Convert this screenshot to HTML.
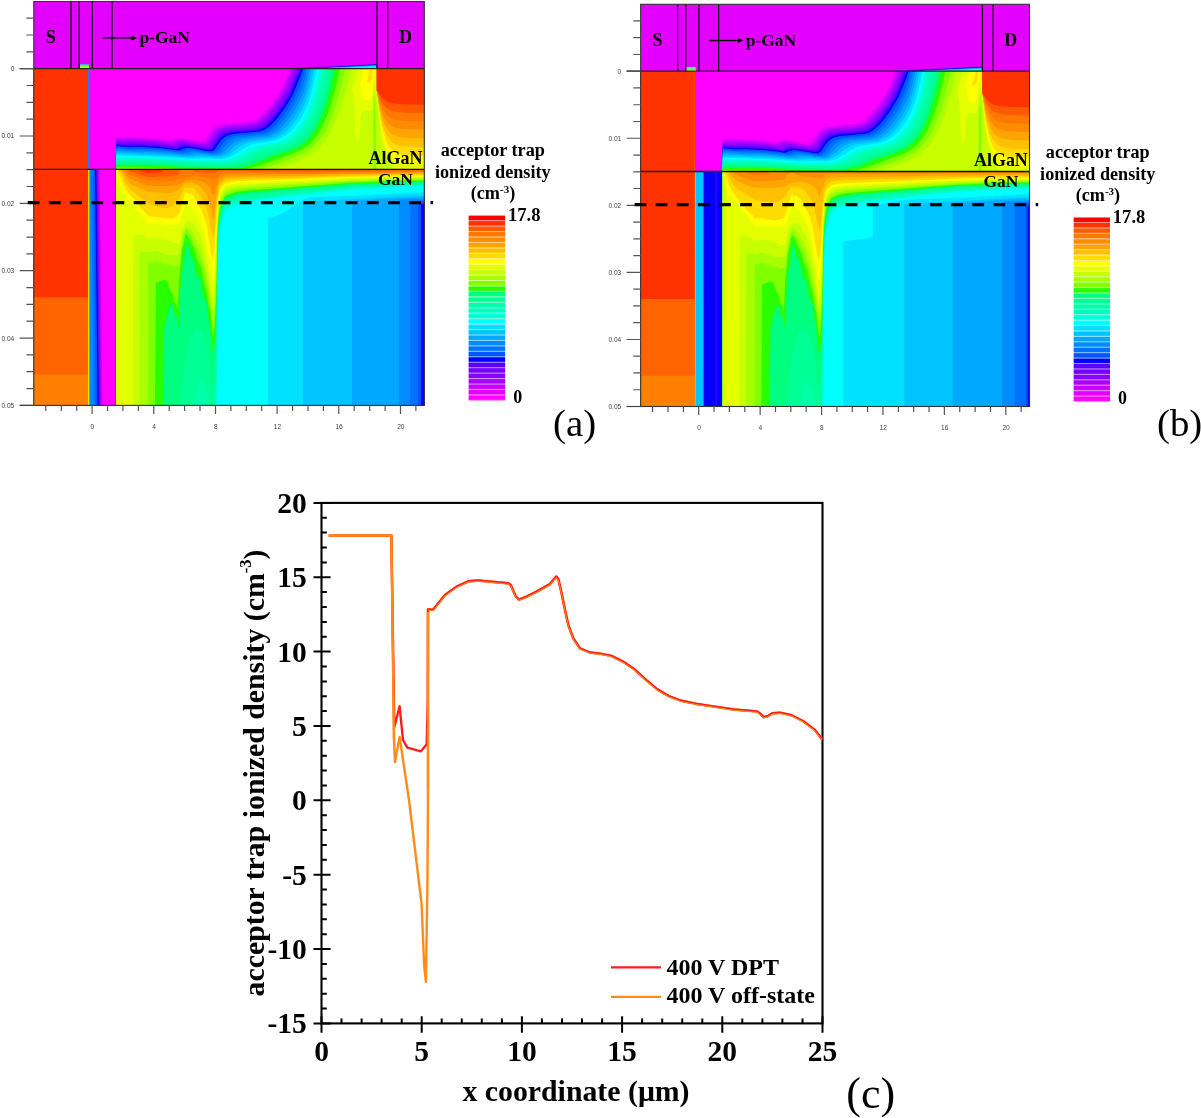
<!DOCTYPE html><html><head><meta charset="utf-8"><title>acceptor trap ionized density</title>
<style>html,body{margin:0;padding:0;background:#fff;overflow:hidden;}svg{display:block;}</style></head><body>
<svg width="1201" height="1118" viewBox="0 0 1201 1118">
<rect width="1201" height="1118" fill="#fff"/>
<g><rect x="33.8" y="1.5" width="390.5" height="67.2" fill="#E400FF"/>
<path fill="#9000FF" d="M284 68.7 L300 67.6 L376.3 64.0 L376.3 68.7Z"/>
<path fill="#0000FF" d="M296 68.7 L376.3 64.3 L376.3 68.7Z"/>
<path fill="#008CFF" d="M303 68.7 L376.3 65.0 L376.3 68.7Z"/>
<path fill="#00E0FF" d="M311 68.7 L376.3 65.7 L376.3 68.7Z"/>
<path fill="#00FFD8" d="M322 68.7 L376.3 66.6 L376.3 68.7Z"/>
<rect x="79.6" y="64.4" width="9.4" height="4.3" fill="#00FFFF"/>
<rect x="79.6" y="66.0" width="9.4" height="2.7" fill="#80FF00"/>
<rect x="79.6" y="67.3" width="9.4" height="1.4" fill="#E4FF00"/>
<rect x="33.8" y="68.7" width="390.5" height="336.7" fill="#FF00FF"/>
<path fill="#E400FF" fill-rule="evenodd" d="M33.8 68.7L88.3 68.7 88.3 169.2 97.8 169.3 99.8 169.7 102.4 405.4 33.8 405.4 33.8 68.7ZM289.7 68.7L424.3 68.7 424.3 405.4 115.8 405.4 115.8 152.2 115.9 140.2 116.3 136.9 131.8 136.8 151.3 137.9 161.8 139.2 169.8 140.5 173.8 138.3 177.8 137.4 196.8 140.6 201.8 141.2 204.8 139.9 211.6 129.7 216.8 125.5 222.8 123.7 249.8 121.3 254.8 119.8 258.8 117.1 263.8 112.5 268.4 107.2 275.8 97.0 282.7 85.7 289.7 68.7Z"/>
<path fill="#C800FF" fill-rule="evenodd" d="M33.8 68.7L88.3 68.7 88.3 169.2 96.8 169.4 99.2 169.7 101.8 405.4 33.8 405.4 33.8 68.7ZM291.6 68.7L424.3 68.7 424.3 405.4 115.8 405.4 115.8 169.7 115.9 144.7 116.3 138.2 118.3 138.4 133.3 138.2 152.8 139.4 162.8 140.6 170.8 141.9 175.3 139.7 179.3 138.9 198.3 142.0 203.3 142.6 205.8 141.6 206.2 141.2 212.9 131.2 218.3 126.9 224.3 125.2 250.8 122.8 255.8 121.4 260.3 118.3 264.8 114.2 269.8 108.5 277.2 98.2 284.0 87.2 291.6 68.7Z"/>
<path fill="#AA00FF" fill-rule="evenodd" d="M33.8 68.7L88.3 68.7 88.3 169.2 96.3 169.4 98.5 169.7 101.1 405.4 33.8 405.4 33.8 68.7ZM293.3 69.2L293.5 68.7 424.3 68.7 424.3 405.4 115.9 405.4 115.9 169.7 116.0 145.7 116.3 139.5 119.8 139.8 134.3 139.7 153.8 140.8 164.3 142.1 172.3 143.4 176.3 141.3 180.3 140.3 199.3 143.5 204.3 144.1 204.8 143.9 207.3 142.9 214.3 132.5 219.3 128.5 225.3 126.7 252.3 124.2 257.3 122.7 261.3 120.0 266.3 115.4 271.3 109.7 278.3 100.0 285.2 88.7 293.3 69.2Z"/>
<path fill="#9000FF" fill-rule="evenodd" d="M33.8 68.7L88.2 68.7 88.2 169.2 97.9 169.7 100.5 405.4 33.8 405.4 33.8 68.7ZM295.1 69.2L295.4 68.7 424.3 68.7 424.3 405.4 115.9 405.4 115.9 169.7 116.0 147.7 116.3 140.7 120.8 141.3 135.8 141.1 155.3 142.3 165.3 143.5 173.3 144.9 177.6 142.7 181.8 141.8 205.3 145.6 208.3 144.5 215.4 134.2 220.8 129.8 226.8 128.1 253.8 125.6 258.5 124.2 262.8 121.3 267.7 116.7 272.3 111.5 279.7 101.2 286.5 90.2 295.1 69.2Z"/>
<path fill="#7400FF" fill-rule="evenodd" d="M33.8 68.7L88.2 68.7 88.2 169.2 97.3 169.7 99.9 405.4 33.8 405.4 33.8 68.7ZM297.1 69.2L297.3 68.7 424.3 68.7 424.3 405.4 115.9 405.4 115.9 169.7 116.3 142.0 121.8 142.8 136.8 142.6 156.8 143.8 166.8 145.0 174.8 146.3 178.8 144.2 182.8 143.2 206.3 147.0 207.3 146.9 209.3 146.1 209.9 145.7 216.8 135.4 221.8 131.4 228.3 129.5 254.8 127.2 259.8 125.7 264.1 122.7 268.8 118.4 273.8 112.7 281.0 102.7 287.8 91.6 297.1 69.2Z"/>
<path fill="#5A00FF" fill-rule="evenodd" d="M33.8 68.7L88.2 68.7 88.2 169.2 89.8 169.5 96.7 169.7 99.3 405.4 33.8 405.4 33.8 68.7ZM299.2 68.7L424.3 68.7 424.3 405.4 115.9 405.4 115.9 169.7 116.3 143.3 123.3 144.2 138.3 144.0 157.8 145.2 167.8 146.4 175.8 147.8 176.3 147.7 180.3 145.6 184.3 144.7 203.3 147.8 208.3 148.4 211.1 147.2 218.2 136.7 223.3 132.8 229.3 131.0 255.8 128.6 260.8 127.2 265.3 124.2 270.2 119.7 275.0 114.2 282.2 104.2 289.2 92.7 299.2 68.7Z"/>
<path fill="#0000FF" fill-rule="evenodd" d="M33.8 68.7L88.2 68.7 88.2 169.2 89.8 169.5 96.1 169.7 98.7 405.4 33.8 405.4 33.8 68.7ZM301.2 68.7L424.3 68.7 424.3 405.4 115.9 405.4 115.9 169.7 116.3 144.6 124.3 145.7 139.3 145.5 159.3 146.7 169.3 147.9 177.3 149.3 181.3 147.1 185.3 146.1 209.3 149.9 212.4 148.7 219.3 138.4 224.6 134.2 230.8 132.4 257.3 130.1 262.3 128.6 266.3 125.9 271.4 121.2 276.3 115.6 283.5 105.7 290.5 94.2 298.8 73.9 301.2 68.7Z"/>
<path fill="#0055FF" fill-rule="evenodd" d="M33.8 68.7L88.2 68.7 88.2 169.2 89.8 169.6 95.0 169.7 97.6 405.4 33.8 405.4 33.8 68.7ZM302.7 69.2L302.8 68.7 424.3 68.7 424.3 203.7 421.8 203.8 421.0 204.2 421.0 405.4 116.0 405.4 116.0 169.7 116.3 146.0 126.3 147.1 141.3 147.0 160.8 148.2 170.8 149.4 178.3 150.5 179.8 150.3 183.3 148.7 187.3 147.8 195.3 148.8 207.3 150.9 211.3 151.3 212.9 150.7 214.5 149.7 221.3 140.1 224.6 137.2 227.0 135.7 232.8 134.0 258.8 131.6 263.8 130.2 268.3 127.3 273.3 122.7 278.3 117.0 285.4 107.2 292.3 95.7 300.3 76.5 302.7 69.2Z"/>
<path fill="#0070FF" fill-rule="evenodd" d="M33.8 68.7L88.2 68.7 88.2 169.2 89.8 169.6 93.3 169.7 95.8 405.4 33.8 405.4 33.8 68.7ZM304.8 69.2L304.9 68.7 424.3 68.7 424.3 202.1 418.8 202.3 417.9 202.7 417.9 405.4 116.0 405.4 116.0 169.7 116.3 147.6 120.8 147.8 129.8 148.7 144.8 148.7 160.8 149.6 167.3 150.2 180.3 151.8 182.8 151.5 188.3 149.9 191.8 149.6 209.3 152.4 212.8 152.6 214.8 152.1 217.1 150.7 218.9 148.7 223.1 143.2 225.3 140.8 228.3 138.4 231.3 136.9 234.3 136.0 237.8 135.4 260.7 133.2 263.3 132.7 265.8 131.9 268.3 130.6 271.1 128.7 273.9 126.2 276.9 123.2 283.1 115.7 290.0 105.7 294.8 97.2 299.5 86.7 302.9 77.2 304.8 69.2Z"/>
<path fill="#008CFF" fill-rule="evenodd" d="M33.8 68.7L88.1 68.7 88.1 169.2 89.3 169.6 91.0 169.7 93.6 405.4 33.8 405.4 33.8 68.7ZM307.0 68.7L424.3 68.7 424.3 200.4 411.3 200.9 410.0 201.2 410.0 405.4 116.0 405.4 116.0 169.7 116.3 149.2 122.8 149.4 132.8 150.2 146.8 150.3 157.8 150.9 167.8 151.6 181.8 153.2 185.3 152.9 191.8 151.6 195.3 151.4 199.8 151.9 210.8 153.7 214.8 153.8 217.4 153.2 219.8 151.7 221.9 149.7 226.3 144.7 228.8 142.1 231.8 139.9 234.8 138.5 237.8 137.6 241.8 136.9 262.8 134.8 265.8 134.2 268.6 133.2 271.5 131.7 274.3 129.7 277.3 127.1 280.6 123.7 287.4 115.2 293.8 105.4 298.4 96.7 302.4 87.2 304.8 79.2 307.0 68.7Z"/>
<path fill="#00A8FF" fill-rule="evenodd" d="M33.8 68.7L88.1 68.7 88.1 169.2 89.6 169.7 89.7 405.4 33.8 405.4 33.8 68.7ZM309.2 68.7L424.3 68.7 424.3 198.7 400.8 199.7 398.9 200.2 398.9 405.4 116.0 405.4 116.0 169.7 116.3 150.8 124.3 151.0 136.8 151.8 156.8 152.2 168.8 153.0 183.8 154.5 187.8 154.4 195.3 153.3 198.8 153.3 203.3 153.7 212.8 155.0 216.8 155.1 219.8 154.3 222.6 152.7 225.0 150.7 232.3 143.7 235.1 141.7 238.3 140.2 241.4 139.2 245.3 138.5 264.8 136.4 268.3 135.6 271.3 134.6 274.0 133.2 277.0 131.2 279.9 128.7 283.4 125.2 286.8 121.2 290.2 116.7 293.7 111.7 296.7 106.7 301.1 98.2 304.4 89.7 307.0 80.2 309.2 68.7Z"/>
<path fill="#00C4FF" fill-rule="evenodd" d="M33.8 68.7L88.1 68.7 88.1 169.2 89.3 169.7 89.3 405.4 33.8 405.4 33.8 68.7ZM311.5 68.7L424.3 68.7 424.3 197.1 399.8 198.1 356.1 200.7 352.0 201.2 352.0 405.4 116.0 405.4 116.0 169.7 116.3 152.4 125.3 152.5 139.8 153.4 159.3 153.8 169.8 154.5 185.8 155.9 189.8 155.9 201.3 155.0 205.3 155.3 214.8 156.4 218.8 156.3 221.8 155.6 224.9 154.2 227.7 152.2 236.3 145.0 239.3 143.1 242.5 141.7 245.8 140.7 249.3 140.0 267.3 137.9 270.8 137.1 273.8 136.1 276.8 134.6 279.8 132.6 282.8 130.1 286.2 126.7 289.7 122.7 293.1 118.2 296.3 113.5 299.2 108.7 303.4 100.2 306.4 91.7 309.2 81.2 311.5 68.7Z"/>
<path fill="#00E0FF" fill-rule="evenodd" d="M33.8 68.7L88.1 68.7 88.1 169.2 89.2 169.7 89.2 405.4 33.8 405.4 33.8 68.7ZM314.0 68.7L424.3 68.7 424.3 195.3 399.8 196.3 353.3 199.2 308.3 201.3 305.9 201.7 304.3 202.7 303.5 203.7 303.1 204.7 303.0 207.2 303.0 405.4 116.1 405.4 116.1 169.7 116.3 154.0 127.8 154.2 143.3 154.9 161.8 155.4 188.3 157.4 204.3 156.8 216.3 157.6 220.8 157.6 224.7 156.7 228.0 155.2 231.2 153.2 240.3 146.4 243.3 144.7 246.3 143.4 249.3 142.5 253.0 141.7 269.8 139.5 273.3 138.6 276.8 137.3 280.0 135.7 283.0 133.7 286.3 130.9 289.6 127.7 293.0 123.7 296.0 119.7 299.0 115.2 301.6 110.7 305.4 102.7 308.5 93.7 311.4 82.2 314.0 68.7Z"/>
<path fill="#00FFFF" fill-rule="evenodd" d="M33.8 68.7L88.1 68.7 88.1 169.2 89.2 169.7 89.2 405.4 33.8 405.4 33.8 68.7ZM316.6 68.7L424.3 68.7 424.3 192.3 398.3 193.4 353.9 195.7 309.3 197.4 303.3 199.8 297.8 203.1 292.2 207.2 286.3 211.0 280.3 214.4 269.6 217.7 268.4 218.7 268.1 219.2 268.0 221.7 268.0 405.4 116.1 405.4 116.1 169.7 116.3 155.6 130.3 155.8 163.8 157.0 191.3 158.8 206.8 158.5 218.3 159.0 222.8 158.8 226.8 158.1 230.8 156.5 234.8 154.2 244.3 148.0 250.3 145.1 253.3 144.2 257.3 143.3 272.8 140.9 276.3 139.9 279.6 138.7 282.8 137.1 286.3 134.7 289.4 132.2 292.4 129.2 295.5 125.7 298.5 121.7 301.2 117.7 303.7 113.2 307.6 104.7 310.8 95.2 313.7 83.7 316.6 68.7Z"/>
<path fill="#00FFD8" fill-rule="evenodd" d="M33.8 68.7L88.1 68.7 88.1 169.2 88.3 169.5 89.1 169.7 89.1 405.4 33.8 405.4 33.8 68.7ZM319.2 68.7L424.3 68.7 424.3 186.6 409.8 186.7 395.2 187.2 392.8 187.5 386.8 187.7 384.3 188.1 378.4 188.2 375.8 188.6 353.4 189.7 347.3 190.2 345.8 190.5 342.8 190.7 341.3 191.0 338.3 191.2 336.8 191.5 301.8 195.2 261.7 200.2 241.3 203.2 239.3 203.7 232.6 206.2 228.8 208.7 225.3 211.2 224.8 212.2 220.3 228.4 220.2 231.2 219.8 232.2 219.7 237.2 219.3 238.2 219.2 243.2 218.8 244.4 218.7 249.7 218.3 250.7 218.2 260.7 217.8 262.2 217.7 279.2 217.6 280.2 217.3 280.7 217.3 297.7 217.2 298.7 216.8 299.6 216.8 405.4 116.1 405.4 116.1 169.7 116.3 157.2 132.8 157.4 165.8 158.6 194.3 160.3 220.3 160.4 224.8 160.2 229.8 159.3 234.0 157.7 237.9 155.7 248.3 149.5 254.8 146.7 260.8 145.1 275.3 142.4 278.8 141.5 282.2 140.2 285.3 138.6 288.8 136.4 291.8 134.0 294.8 131.2 297.8 127.9 300.6 124.2 303.3 120.2 305.6 116.2 309.6 107.2 313.1 96.7 316.1 84.7 319.2 68.7Z"/>
<path fill="#00FFBC" fill-rule="evenodd" d="M33.8 68.7L88.1 68.7 88.1 169.2 88.3 169.5 89.0 169.7 89.0 405.4 33.8 405.4 33.8 68.7ZM322.1 68.7L424.3 68.7 424.3 185.4 399.8 185.9 349.8 188.7 299.8 193.9 260.3 198.5 239.8 201.4 231.8 204.3 225.3 208.6 224.8 209.5 220.3 224.7 219.6 230.2 218.0 250.7 216.8 294.7 216.3 405.4 116.1 405.4 116.1 169.7 116.3 158.8 135.8 159.0 166.3 160.1 198.3 161.9 220.3 161.9 226.8 161.6 232.1 160.7 237.3 159.0 242.0 156.7 252.3 151.2 258.8 148.4 265.0 146.7 278.3 143.9 284.8 141.7 288.3 140.0 291.3 138.1 294.4 135.7 297.6 132.7 300.8 129.2 303.3 125.8 305.8 122.0 308.1 117.7 312.1 108.7 315.7 97.7 319.0 84.2 322.1 68.7Z"/>
<path fill="#00FFA8" fill-rule="evenodd" d="M33.8 68.7L88.0 68.7 88.0 169.2 88.3 169.5 89.0 169.7 89.0 405.4 33.8 405.4 33.8 68.7ZM325.0 68.7L424.3 68.7 424.3 184.4 399.8 184.9 349.8 187.5 299.8 192.4 260.3 196.7 239.8 199.4 231.8 202.0 225.3 206.1 224.8 206.9 220.3 221.1 219.8 224.3 218.5 238.2 218.0 246.7 216.8 283.4 216.3 380.9 215.5 405.4 116.1 405.4 116.1 169.7 116.3 160.4 146.3 160.8 173.8 161.9 202.8 163.4 220.3 163.5 228.8 163.1 234.8 162.1 240.3 160.4 245.4 158.2 256.8 152.6 263.3 150.0 268.8 148.4 281.3 145.4 287.5 143.2 290.8 141.6 294.3 139.4 297.3 137.1 300.4 134.2 303.1 131.2 305.8 127.7 308.3 123.7 310.5 119.7 314.6 110.2 318.2 99.2 321.7 85.2 325.0 68.7Z"/>
<path fill="#00FF94" fill-rule="evenodd" d="M33.8 68.7L88.0 68.7 88.0 169.2 88.3 169.5 88.9 169.7 88.9 405.4 33.8 405.4 33.8 68.7ZM328.1 68.7L424.3 68.7 424.3 183.4 399.8 183.9 349.8 186.3 299.8 190.9 260.3 194.9 239.8 197.3 231.8 199.8 225.3 203.6 224.8 204.3 220.3 217.5 219.6 222.2 218.1 239.7 216.8 275.5 216.3 355.5 214.8 394.2 214.2 405.4 209.3 405.4 206.8 389.7 200.8 377.4 198.3 383.7 196.0 390.7 194.2 398.2 192.9 405.4 116.2 405.4 116.3 162.0 134.8 162.1 149.8 162.5 175.3 163.4 207.3 165.0 221.8 165.0 230.8 164.6 236.8 163.7 242.8 162.1 247.7 160.2 259.8 154.7 265.8 152.3 271.8 150.4 284.3 147.0 290.3 144.7 293.8 143.0 297.3 140.8 300.3 138.4 303.2 135.7 305.8 132.7 308.4 129.2 310.9 125.2 313.1 121.2 317.3 111.2 320.9 100.2 324.5 86.2 328.1 68.7Z"/>
<path fill="#00FF80" fill-rule="evenodd" d="M33.8 68.7L88.0 68.7 88.0 169.2 88.3 169.6 88.8 169.7 88.8 405.4 33.8 405.4 33.8 68.7ZM331.3 69.2L331.4 68.7 424.3 68.7 424.3 182.4 399.8 182.8 349.8 185.2 299.8 189.4 260.3 193.0 239.8 195.3 231.8 197.6 225.3 201.0 224.8 201.7 220.3 213.9 219.8 216.7 218.2 231.7 216.8 267.5 216.3 330.0 215.3 354.3 213.3 386.4 212.8 387.3 211.8 384.9 209.8 364.6 206.8 346.2 206.3 344.6 200.8 328.6 194.3 328.9 193.8 329.1 193.3 330.2 190.7 336.7 188.7 343.2 186.3 352.2 184.3 364.7 180.1 405.4 116.2 405.4 116.3 163.6 137.3 163.7 153.3 164.1 211.8 166.5 223.8 166.6 232.8 166.1 239.8 165.1 247.0 163.2 252.5 161.2 269.3 154.2 286.3 148.9 292.3 146.6 296.2 144.7 299.5 142.7 302.7 140.2 305.4 137.7 308.1 134.7 310.8 131.2 313.3 127.2 315.5 123.2 319.6 113.7 323.8 101.2 327.7 86.2 331.3 69.2Z"/>
<path fill="#28FF00" fill-rule="evenodd" d="M33.8 68.7L88.0 68.7 88.0 169.2 88.8 169.7 88.8 405.4 33.8 405.4 33.8 68.7ZM334.8 68.7L424.3 68.7 424.3 181.5 399.8 181.8 349.8 184.0 260.3 191.2 239.8 193.2 231.8 195.3 225.3 198.5 224.8 199.1 220.3 210.3 219.8 212.8 218.3 225.8 217.7 234.7 216.8 259.5 216.3 310.0 216.0 319.2 214.8 341.7 213.3 351.5 212.8 351.6 212.5 351.2 211.8 349.0 211.0 340.2 210.1 323.7 208.7 319.2 207.9 315.7 206.5 302.2 204.1 298.7 202.7 294.7 201.6 288.7 200.8 280.0 199.1 278.7 197.8 277.1 196.7 275.2 195.8 272.7 194.5 265.7 193.8 258.5 191.8 257.4 190.7 256.2 189.8 253.2 189.3 247.7 188.8 247.5 188.2 246.7 187.8 244.7 186.8 244.5 186.3 244.1 185.9 248.7 185.6 249.7 184.8 250.7 184.0 262.7 183.3 266.2 182.3 268.5 181.9 276.2 181.3 279.7 180.9 286.7 180.2 291.7 179.4 315.7 178.8 326.6 178.2 323.2 177.4 316.2 175.8 315.9 174.8 315.4 174.2 314.2 173.8 306.2 171.3 305.3 170.3 303.1 169.9 306.7 169.3 309.2 168.4 311.2 167.2 312.7 165.9 322.2 165.2 324.7 164.3 326.6 162.9 405.4 116.2 405.4 116.3 165.3 157.9 165.7 214.8 168.1 227.8 168.1 236.3 167.6 243.8 166.4 251.3 164.4 258.3 161.9 271.3 156.7 288.3 151.0 294.8 148.4 298.8 146.4 301.8 144.6 305.3 141.9 308.2 139.2 313.1 133.2 316.0 128.7 318.2 124.7 322.6 114.7 327.1 101.2 331.1 85.7 334.8 68.7Z"/>
<path fill="#80FF00" fill-rule="evenodd" d="M33.8 68.7L88.0 68.7 88.0 169.2 88.7 169.7 88.7 405.4 33.8 405.4 33.8 68.7ZM339.9 68.7L424.3 68.7 424.3 180.5 399.8 180.8 349.8 182.8 260.3 189.4 239.8 191.2 231.8 193.1 225.3 195.9 224.8 196.5 220.3 206.7 219.8 209.0 218.3 220.8 217.7 229.2 216.8 251.5 216.3 295.0 214.8 325.6 213.3 336.4 212.5 332.7 211.8 324.2 210.2 310.2 208.6 306.2 206.8 291.7 204.3 284.2 200.9 266.7 199.3 264.1 198.2 261.7 193.9 247.7 191.5 244.2 189.4 238.2 186.9 234.7 186.3 233.4 185.7 235.2 184.8 236.7 183.6 244.2 182.3 249.1 181.9 253.2 181.2 256.7 180.6 264.2 178.8 280.2 177.8 308.0 177.3 309.3 176.8 304.7 175.9 303.2 174.2 302.2 173.4 296.7 172.8 294.1 171.8 292.2 170.5 290.7 166.8 280.6 163.3 280.0 162.8 279.7 162.3 280.4 160.0 281.2 158.8 282.2 155.8 282.7 155.4 354.7 154.9 405.4 116.2 405.4 116.3 167.6 155.3 167.9 193.1 169.2 244.7 169.2 252.4 167.7 260.8 165.2 289.8 154.7 296.3 152.1 300.8 150.0 304.6 147.7 308.1 145.2 310.9 142.7 313.8 139.7 316.6 136.2 319.2 132.2 321.8 127.7 324.2 122.7 326.6 117.2 331.1 104.2 335.5 88.2 339.9 68.7Z"/>
<path fill="#A8FF00" fill-rule="evenodd" d="M33.8 68.7L88.0 68.7 88.0 169.2 88.6 169.7 88.6 405.4 33.8 405.4 33.8 68.7ZM345.5 68.7L424.3 68.7 424.3 179.5 399.8 179.8 349.8 181.6 260.3 187.5 239.8 189.1 231.8 190.8 225.3 193.4 224.8 193.9 220.3 203.1 219.8 205.1 218.3 215.8 217.7 223.2 216.8 243.6 216.3 280.0 215.3 302.3 214.8 310.9 213.3 322.4 211.3 309.2 210.2 305.7 209.8 303.6 206.8 282.6 202.7 264.7 197.4 247.7 196.2 245.7 193.8 242.7 192.3 238.2 191.4 236.2 187.4 230.2 186.3 228.1 185.7 230.2 184.0 234.2 182.3 242.0 178.8 267.0 177.3 266.2 173.8 266.6 170.3 265.1 163.8 264.0 157.3 261.8 155.8 261.1 153.8 262.3 148.5 262.7 148.3 263.2 148.2 405.4 116.2 405.4 116.3 169.2 260.4 169.2 267.3 167.2 274.8 164.7 290.3 159.0 298.3 155.8 303.3 153.4 307.3 151.1 310.8 148.7 314.3 145.7 317.3 142.6 320.5 138.7 323.2 134.7 325.8 130.2 328.4 125.2 330.8 119.7 333.3 113.2 335.8 105.7 340.7 88.7 345.5 68.7ZM374.8 100.4L374.3 102.7 373.7 115.7 373.5 169.2 374.8 169.2 375.7 169.2 375.6 114.2 375.3 104.4 374.8 100.4Z"/>
<path fill="#C8FF00" fill-rule="evenodd" d="M33.8 68.7L87.9 68.7 87.9 169.2 88.5 169.7 88.5 405.4 33.8 405.4 33.8 68.7ZM351.3 68.7L424.3 68.7 424.3 178.5 399.8 178.8 350.3 180.4 260.3 185.7 239.8 187.1 231.8 188.6 225.3 190.8 224.8 191.3 220.3 199.5 219.8 201.3 218.3 210.8 217.7 217.7 216.8 235.6 216.3 265.0 215.3 287.3 214.5 300.2 213.3 310.3 211.8 303.0 210.3 297.3 208.1 280.2 206.8 272.5 200.8 247.7 199.4 244.2 192.6 231.2 191.3 229.6 188.3 227.1 186.3 225.0 182.9 233.2 181.8 238.7 179.8 250.7 178.8 255.0 170.3 255.8 164.3 254.0 162.8 253.0 161.3 252.4 155.8 251.0 154.8 251.0 149.3 252.4 147.8 252.0 145.3 251.9 143.8 251.5 142.8 252.0 139.8 252.2 139.6 405.4 116.3 405.4 116.3 169.4 274.2 169.2 286.8 165.0 299.3 160.1 304.8 157.6 309.3 155.1 313.6 152.2 317.3 149.2 320.8 145.8 323.9 142.2 326.8 138.1 329.8 133.2 332.7 127.7 335.2 122.2 338.0 115.2 340.7 107.7 346.1 89.7 351.3 68.7ZM374.8 92.4L374.3 93.6 373.8 97.6 372.9 115.2 372.7 129.7 372.6 169.2 374.8 169.3 376.4 169.2 376.3 106.9 375.7 96.2 375.3 93.3 374.8 92.4Z"/>
<path fill="#E4FF00" fill-rule="evenodd" d="M33.8 68.7L87.9 68.7 87.9 169.2 88.5 169.7 88.5 405.4 33.8 405.4 33.8 68.7ZM357.2 69.2L357.4 68.7 424.3 68.7 424.3 177.5 399.8 177.7 350.3 179.2 259.8 183.9 239.8 185.1 231.8 186.3 225.3 188.3 224.8 188.7 220.3 195.9 219.8 197.7 218.2 206.7 216.8 227.6 216.3 250.0 214.9 279.2 213.3 298.5 211.8 292.9 210.3 285.4 208.2 269.2 205.0 252.2 203.1 244.2 201.5 238.7 199.8 234.3 196.9 228.2 193.8 222.9 191.8 221.8 189.3 220.9 188.3 221.9 187.8 222.0 187.3 221.4 186.3 220.8 185.5 221.7 184.3 225.6 183.3 226.4 182.6 227.7 181.6 231.2 179.8 240.3 178.8 242.9 177.8 243.3 173.8 242.9 168.3 240.5 162.8 238.5 160.3 238.0 154.8 238.0 148.8 238.9 143.8 235.4 140.3 234.0 136.3 234.7 133.9 235.7 133.3 236.2 132.9 405.4 116.3 405.4 116.3 169.5 130.3 169.3 395.4 169.2 393.3 167.5 391.8 166.0 390.3 164.0 388.8 161.4 386.3 155.5 383.8 146.6 381.7 135.7 379.6 121.2 378.5 111.7 378.4 108.7 378.0 106.7 377.8 102.7 377.5 101.2 377.3 96.7 377.0 95.7 376.8 93.2 376.4 92.2 376.3 85.5 375.8 84.7 375.3 84.4 374.8 84.9 374.3 86.4 373.8 89.2 372.3 106.2 371.8 108.8 371.3 110.0 370.3 110.7 368.3 111.1 363.3 111.4 362.3 111.9 361.7 112.7 361.1 114.7 360.6 117.7 359.8 132.3 359.2 137.2 358.7 139.2 357.8 141.0 357.3 141.2 356.3 139.3 355.7 136.7 355.2 132.2 354.5 111.7 353.9 102.2 353.1 95.2 352.0 89.7 357.2 69.2Z"/>
<path fill="#FFFF00" fill-rule="evenodd" d="M33.8 68.7L87.9 68.7 87.9 169.2 88.4 169.7 88.4 405.4 33.8 405.4 33.8 68.7ZM363.7 68.7L374.6 68.7 374.0 75.7 371.6 96.2 371.2 97.7 370.3 99.3 369.3 99.9 367.8 100.3 366.3 100.2 364.8 99.8 363.8 99.0 363.1 97.7 362.0 94.2 360.0 83.2 363.7 68.7ZM376.3 68.7L424.3 68.7 424.3 164.4 407.8 164.0 402.8 163.4 398.8 162.4 395.3 160.8 392.3 158.5 389.8 155.5 387.8 152.0 385.3 145.8 383.3 138.6 381.3 128.6 379.8 118.7 377.6 99.7 377.4 96.2 376.4 91.2 376.3 68.7ZM116.3 169.7L130.3 169.4 424.3 169.2 424.3 176.5 399.8 176.7 350.3 178.0 240.3 183.0 231.8 184.1 225.3 185.8 224.8 186.1 220.3 192.3 219.8 193.7 218.3 201.2 216.8 220.2 216.3 235.0 214.8 262.9 213.3 279.7 212.8 279.3 211.8 276.0 210.3 268.4 208.3 254.6 206.3 242.7 203.6 231.2 200.8 222.8 193.8 209.9 189.3 205.0 188.3 205.8 187.8 205.8 186.3 204.0 184.8 206.7 183.5 210.7 182.3 213.1 180.8 219.6 179.8 221.9 178.8 223.1 176.3 224.2 173.8 224.7 166.8 224.6 164.3 224.4 159.8 223.6 154.8 223.1 151.8 224.1 148.8 224.6 147.8 223.9 146.2 222.2 145.0 220.2 143.8 217.3 142.3 216.5 141.5 215.7 140.4 213.2 139.3 211.6 136.9 210.7 135.6 209.7 134.8 208.2 133.9 204.7 133.0 203.7 132.8 203.2 131.3 203.1 130.6 202.7 130.3 200.2 127.8 200.0 126.3 199.5 125.9 198.7 125.3 193.7 122.3 193.4 121.4 192.7 121.0 191.2 120.8 186.7 119.3 186.4 118.4 185.7 118.0 184.2 117.8 180.2 116.8 179.7 116.5 179.2 116.3 169.7Z"/>
<path fill="#FFDC00" fill-rule="evenodd" d="M33.8 68.7L87.9 68.7 87.9 169.2 88.3 169.7 88.3 405.4 33.8 405.4 33.8 68.7ZM370.4 68.7L372.7 68.7 372.4 73.2 371.9 76.7 371.3 79.1 370.3 81.2 369.3 82.2 367.8 82.5 367.1 82.2 367.0 81.7 370.4 68.7ZM376.4 68.7L424.3 68.7 424.3 155.7 407.8 155.3 402.8 154.7 398.8 153.8 395.3 152.4 392.3 150.4 389.8 147.7 387.8 144.7 385.3 139.1 383.3 132.8 381.3 124.0 379.8 115.2 378.3 104.0 377.5 96.2 376.5 90.7 376.4 68.7ZM117.3 169.7L140.3 169.4 424.3 169.3 424.3 175.5 399.8 175.7 350.3 176.8 299.8 178.9 240.3 180.9 231.8 181.8 225.3 183.2 224.8 183.5 220.3 188.7 219.8 189.8 218.3 195.9 217.7 200.2 216.6 214.2 214.8 245.4 213.3 258.9 212.8 258.8 211.8 256.0 210.3 248.4 206.8 225.6 206.2 223.2 203.6 215.7 201.0 209.2 197.5 203.2 193.8 196.0 191.4 194.7 189.3 193.1 188.3 193.9 187.8 193.9 187.0 193.2 186.3 192.1 184.8 193.5 182.4 202.7 179.9 211.2 178.8 213.9 177.3 216.1 174.3 217.7 170.8 218.4 167.3 218.4 156.8 217.0 148.8 216.3 147.8 215.6 146.3 213.5 144.3 212.1 142.5 209.7 140.8 208.6 139.4 206.7 138.3 204.2 137.3 202.7 132.9 198.7 131.8 197.1 130.1 195.2 127.8 191.7 125.1 188.2 123.0 184.2 121.0 178.2 118.9 174.7 117.3 169.7Z"/>
<path fill="#FFC000" fill-rule="evenodd" d="M33.8 68.7L87.9 68.7 87.9 169.2 88.3 169.7 88.3 405.4 33.8 405.4 33.8 68.7ZM376.5 68.7L424.3 68.7 424.3 147.0 407.3 146.6 402.3 146.0 398.3 145.2 394.8 143.9 391.8 141.9 389.3 139.4 387.3 136.5 384.8 131.3 382.8 125.3 380.8 117.0 379.3 108.8 377.5 95.2 376.5 90.2 376.5 68.7ZM118.7 169.7L140.8 169.5 424.3 169.4 424.3 174.5 399.8 174.7 350.3 175.6 299.8 177.4 240.3 178.9 231.8 179.6 225.3 180.7 224.8 180.9 220.3 185.1 219.8 186.0 218.3 190.9 216.3 207.0 214.8 229.9 213.3 237.5 212.8 236.9 212.6 236.2 211.0 229.7 207.9 213.7 206.5 207.7 204.1 202.7 201.0 197.2 197.6 192.2 194.1 188.2 189.3 187.5 188.3 188.3 187.8 188.3 186.3 187.0 184.8 187.9 182.5 191.7 180.4 196.2 178.8 199.1 177.5 200.2 174.3 204.7 170.8 206.9 166.8 208.0 164.3 208.0 155.8 206.0 154.8 206.0 148.3 204.1 139.3 195.9 134.3 193.1 130.3 190.0 128.3 187.1 125.8 184.1 123.2 177.7 120.3 172.9 118.7 169.7Z"/>
<path fill="#FFA400" fill-rule="evenodd" d="M33.8 68.7L87.9 68.7 87.9 169.2 88.2 169.7 88.1 405.4 33.8 405.4 33.8 68.7ZM376.5 68.7L424.3 68.7 424.3 138.2 407.3 137.9 402.3 137.4 398.3 136.7 394.8 135.5 391.8 133.9 389.3 131.7 387.3 129.3 384.8 124.9 382.8 119.8 380.8 112.8 378.8 103.1 377.5 94.2 376.6 90.2 376.5 68.7ZM120.3 169.7L140.8 169.5 424.3 169.4 424.3 173.6 399.8 173.7 350.3 174.4 299.8 175.9 240.3 176.8 231.8 177.3 225.3 178.1 220.3 181.5 219.8 182.2 218.3 185.9 217.7 188.7 216.8 195.7 216.3 195.0 216.3 195.2 215.6 201.7 214.8 214.5 213.9 217.7 213.3 221.2 209.2 202.2 206.8 194.3 201.1 187.2 198.8 185.7 193.8 183.5 189.3 183.1 187.8 183.5 186.3 182.6 184.6 183.2 181.3 187.3 178.8 189.6 174.3 191.9 171.3 192.9 164.3 193.1 162.8 192.6 159.8 192.6 155.8 192.1 147.8 191.6 141.8 189.2 133.3 185.2 130.3 184.0 126.8 179.6 123.5 174.2 120.3 169.7Z"/>
<path fill="#FF8C00" fill-rule="evenodd" d="M33.8 68.7L87.9 68.7 87.9 169.2 88.1 169.7 88.0 405.4 33.8 405.4 33.8 68.7ZM376.6 68.7L424.3 68.7 424.3 129.7 406.8 129.3 401.8 128.9 397.8 128.3 394.3 127.2 391.3 125.7 388.8 123.8 386.8 121.6 385.3 119.4 383.8 116.6 381.3 110.2 379.3 102.9 377.5 93.7 376.7 90.7 376.6 68.7ZM122.2 169.7L424.3 169.5 424.3 172.6 351.8 173.2 299.8 174.4 239.8 174.8 231.8 175.1 225.3 175.6 220.3 177.9 219.8 178.4 218.0 181.7 216.8 187.7 216.3 184.1 214.7 191.2 213.3 194.8 212.8 194.2 211.8 191.1 210.3 187.4 209.8 186.7 206.3 183.8 200.8 181.0 193.8 179.5 188.3 180.8 186.3 180.4 183.8 181.4 182.3 182.8 178.8 184.6 177.3 185.0 170.8 186.0 154.8 186.0 147.8 185.6 143.8 184.4 133.9 180.2 130.3 179.0 125.8 174.1 122.2 169.7Z"/>
<path fill="#FF7800" fill-rule="evenodd" d="M33.8 68.7L87.8 68.7 87.8 169.2 88.0 169.7 87.9 405.4 33.8 405.4 33.8 68.7ZM376.6 68.7L424.3 68.7 424.3 121.4 406.8 121.1 397.8 120.2 394.3 119.4 391.3 118.2 388.8 116.6 386.3 114.3 383.8 110.9 381.3 105.8 379.3 100.0 377.5 92.7 376.8 90.8 376.6 68.7ZM124.6 169.7L424.3 169.6 424.3 171.6 359.8 171.9 299.8 172.9 239.8 172.8 225.3 173.0 219.8 174.5 218.2 176.2 216.8 179.8 216.3 177.0 214.8 179.2 213.3 180.0 211.8 179.1 210.3 178.6 206.8 178.0 200.8 176.5 193.8 175.5 191.3 176.2 189.3 177.4 188.3 177.6 186.3 177.3 178.8 179.3 167.3 181.0 148.3 181.0 140.8 179.1 134.3 176.3 130.3 175.0 125.8 171.1 124.6 169.7Z"/>
<path fill="#FF5A00" fill-rule="evenodd" d="M33.8 68.7L87.8 68.7 87.8 374.4 33.8 374.4 33.8 68.7ZM376.7 68.7L424.3 68.7 424.3 113.1 406.8 112.8 397.3 112.1 393.8 111.4 390.8 110.4 388.3 109.1 385.8 107.3 383.3 104.5 381.3 101.4 379.3 97.2 377.5 91.7 376.8 90.5 376.7 68.7ZM128.5 169.7L178.8 169.7 178.8 174.7 166.8 176.4 159.8 176.5 154.8 177.0 147.8 177.0 140.8 175.1 130.3 171.5 128.5 169.7ZM192.6 169.7L424.3 169.6 424.3 170.6 359.8 170.8 299.8 171.4 250.3 171.0 224.8 170.5 220.3 170.7 218.3 171.0 216.8 171.8 216.3 172.4 214.8 172.9 213.3 172.9 206.8 172.9 200.8 172.4 194.3 171.4 193.7 171.2 192.6 169.7Z"/>
<path fill="#FF3300" fill-rule="evenodd" d="M33.8 68.7L87.8 68.7 87.8 297.4 33.8 297.4 33.8 68.7ZM376.8 68.7L424.3 68.7 424.3 104.8 405.8 104.6 396.3 104.0 392.3 103.3 389.3 102.4 386.8 101.4 384.3 99.8 382.3 98.1 380.3 95.8 376.8 90.0 376.8 68.7ZM138.6 169.7L162.8 169.7 162.8 171.7 156.4 172.7 148.3 173.2 143.8 172.3 142.8 171.6 140.1 170.7 138.6 169.7ZM288.8 169.7L345.9 169.7 300.3 169.9 288.8 169.7Z"/>
<rect x="33.8" y="68.7" width="54.0" height="228.8" fill="#FF3300"/>
<rect x="33.8" y="297.5" width="54.0" height="77" fill="#FF6400"/>
<rect x="33.8" y="374.5" width="54.0" height="30.9" fill="#FF7F00"/>
<line x1="70.90" y1="1.5" x2="70.90" y2="68.7" stroke="#1a0020" stroke-width="1.3"/>
<line x1="79.10" y1="1.5" x2="79.10" y2="68.7" stroke="#1a0020" stroke-width="1.3"/>
<line x1="92.25" y1="1.5" x2="92.25" y2="68.7" stroke="#1a0020" stroke-width="1.3"/>
<line x1="112.10" y1="1.5" x2="112.10" y2="68.7" stroke="#1a0020" stroke-width="1.3"/>
<line x1="377.00" y1="1.5" x2="377.00" y2="68.7" stroke="#1a0020" stroke-width="1.3"/>
<line x1="387.70" y1="1.5" x2="387.70" y2="68.7" stroke="#1a0020" stroke-width="1.3"/>
<line x1="19.7" y1="68.7" x2="424.3" y2="68.7" stroke="#222" stroke-width="1.3"/>
<line x1="33.8" y1="169.4" x2="424.3" y2="169.4" stroke="#111" stroke-width="1.3"/>
<rect x="33.8" y="1.5" width="390.5" height="403.9" fill="none" stroke="#333" stroke-width="1.1"/>
<path d="M26.4 18.2H33.8M26.4 35.0H33.8M26.4 51.9H33.8M19.7 68.7H33.8M26.4 85.5H33.8M26.4 102.4H33.8M26.4 119.2H33.8M19.7 136.0H33.8M26.4 152.9H33.8M26.4 169.7H33.8M26.4 186.5H33.8M19.7 203.4H33.8M26.4 220.2H33.8M26.4 237.1H33.8M26.4 253.9H33.8M19.7 270.7H33.8M26.4 287.6H33.8M26.4 304.4H33.8M26.4 321.2H33.8M19.7 338.1H33.8M26.4 354.9H33.8M26.4 371.7H33.8M26.4 388.6H33.8M19.7 405.4H33.8" stroke="#555" stroke-width="1.2" fill="none"/>
<text x="14.3" y="71.1" text-anchor="end" font-family="'Liberation Sans',Arial,sans-serif" font-size="6.6" fill="#444">0</text>
<text x="14.3" y="138.4" text-anchor="end" font-family="'Liberation Sans',Arial,sans-serif" font-size="6.6" fill="#444">0.01</text>
<text x="14.3" y="205.8" text-anchor="end" font-family="'Liberation Sans',Arial,sans-serif" font-size="6.6" fill="#444">0.02</text>
<text x="14.3" y="273.1" text-anchor="end" font-family="'Liberation Sans',Arial,sans-serif" font-size="6.6" fill="#444">0.03</text>
<text x="14.3" y="340.5" text-anchor="end" font-family="'Liberation Sans',Arial,sans-serif" font-size="6.6" fill="#444">0.04</text>
<text x="14.3" y="407.8" text-anchor="end" font-family="'Liberation Sans',Arial,sans-serif" font-size="6.6" fill="#444">0.05</text>
<path d="M45.8 405.4V411M61.3 405.4V411M76.7 405.4V411M92.1 405.4V414M107.5 405.4V411M122.9 405.4V411M138.4 405.4V411M153.8 405.4V414M169.2 405.4V411M184.6 405.4V411M200.0 405.4V411M215.5 405.4V414M230.9 405.4V411M246.3 405.4V411M261.7 405.4V411M277.1 405.4V414M292.6 405.4V411M308.0 405.4V411M323.4 405.4V411M338.8 405.4V414M354.2 405.4V411M369.7 405.4V411M385.1 405.4V411M400.5 405.4V414M415.9 405.4V411" stroke="#555" stroke-width="1.2" fill="none"/>
<line x1="19.7" y1="405.4" x2="33.8" y2="405.4" stroke="#444" stroke-width="1.2"/>
<text x="92.4" y="428.8" text-anchor="middle" font-family="'Liberation Sans',Arial,sans-serif" font-size="6.6" fill="#444">0</text>
<text x="154.1" y="428.8" text-anchor="middle" font-family="'Liberation Sans',Arial,sans-serif" font-size="6.6" fill="#444">4</text>
<text x="215.8" y="428.8" text-anchor="middle" font-family="'Liberation Sans',Arial,sans-serif" font-size="6.6" fill="#444">8</text>
<text x="277.4" y="428.8" text-anchor="middle" font-family="'Liberation Sans',Arial,sans-serif" font-size="6.6" fill="#444">12</text>
<text x="339.1" y="428.8" text-anchor="middle" font-family="'Liberation Sans',Arial,sans-serif" font-size="6.6" fill="#444">16</text>
<text x="400.8" y="428.8" text-anchor="middle" font-family="'Liberation Sans',Arial,sans-serif" font-size="6.6" fill="#444">20</text>
<line x1="27.7" y1="202.7" x2="433" y2="202.7" stroke="#000" stroke-width="3.2" stroke-dasharray="11.8 9.4"/>
<g font-family="'Liberation Serif','Times New Roman',serif" font-weight="bold" fill="#000">
<text x="45.8" y="43" font-size="18">S</text>
<text x="399" y="43" font-size="18">D</text>
<text x="139.4" y="42.9" font-size="17.5">p-GaN</text>
<text x="368.6" y="163.6" font-size="18">AlGaN</text>
<text x="378" y="185.3" font-size="17.5">GaN</text>
</g>
<line x1="102.8" y1="37.9" x2="132.5" y2="37.9" stroke="#000" stroke-width="1.4"/>
<path d="M131.5 35.4L137 37.9L131.5 40.4Z" fill="#000"/>
<rect x="468.7" y="215.70" width="36.4" height="5.45" fill="#FF0000" opacity="0.45"/>
<rect x="468.7" y="215.70" width="36.4" height="4.35" fill="#FF0000"/>
<rect x="468.7" y="221.15" width="36.4" height="5.45" fill="#FF3300" opacity="0.45"/>
<rect x="468.7" y="221.15" width="36.4" height="4.35" fill="#FF3300"/>
<rect x="468.7" y="226.59" width="36.4" height="5.45" fill="#FF5A00" opacity="0.45"/>
<rect x="468.7" y="226.59" width="36.4" height="4.35" fill="#FF5A00"/>
<rect x="468.7" y="232.04" width="36.4" height="5.45" fill="#FF7800" opacity="0.45"/>
<rect x="468.7" y="232.04" width="36.4" height="4.35" fill="#FF7800"/>
<rect x="468.7" y="237.49" width="36.4" height="5.45" fill="#FF8C00" opacity="0.45"/>
<rect x="468.7" y="237.49" width="36.4" height="4.35" fill="#FF8C00"/>
<rect x="468.7" y="242.94" width="36.4" height="5.45" fill="#FFA400" opacity="0.45"/>
<rect x="468.7" y="242.94" width="36.4" height="4.35" fill="#FFA400"/>
<rect x="468.7" y="248.38" width="36.4" height="5.45" fill="#FFC000" opacity="0.45"/>
<rect x="468.7" y="248.38" width="36.4" height="4.35" fill="#FFC000"/>
<rect x="468.7" y="253.83" width="36.4" height="5.45" fill="#FFDC00" opacity="0.45"/>
<rect x="468.7" y="253.83" width="36.4" height="4.35" fill="#FFDC00"/>
<rect x="468.7" y="259.28" width="36.4" height="5.45" fill="#FFFF00" opacity="0.45"/>
<rect x="468.7" y="259.28" width="36.4" height="4.35" fill="#FFFF00"/>
<rect x="468.7" y="264.72" width="36.4" height="5.45" fill="#E4FF00" opacity="0.45"/>
<rect x="468.7" y="264.72" width="36.4" height="4.35" fill="#E4FF00"/>
<rect x="468.7" y="270.17" width="36.4" height="5.45" fill="#C8FF00" opacity="0.45"/>
<rect x="468.7" y="270.17" width="36.4" height="4.35" fill="#C8FF00"/>
<rect x="468.7" y="275.62" width="36.4" height="5.45" fill="#A8FF00" opacity="0.45"/>
<rect x="468.7" y="275.62" width="36.4" height="4.35" fill="#A8FF00"/>
<rect x="468.7" y="281.06" width="36.4" height="5.45" fill="#80FF00" opacity="0.45"/>
<rect x="468.7" y="281.06" width="36.4" height="4.35" fill="#80FF00"/>
<rect x="468.7" y="286.51" width="36.4" height="5.45" fill="#28FF00" opacity="0.45"/>
<rect x="468.7" y="286.51" width="36.4" height="4.35" fill="#28FF00"/>
<rect x="468.7" y="291.96" width="36.4" height="5.45" fill="#00FF80" opacity="0.45"/>
<rect x="468.7" y="291.96" width="36.4" height="4.35" fill="#00FF80"/>
<rect x="468.7" y="297.41" width="36.4" height="5.45" fill="#00FF94" opacity="0.45"/>
<rect x="468.7" y="297.41" width="36.4" height="4.35" fill="#00FF94"/>
<rect x="468.7" y="302.85" width="36.4" height="5.45" fill="#00FFA8" opacity="0.45"/>
<rect x="468.7" y="302.85" width="36.4" height="4.35" fill="#00FFA8"/>
<rect x="468.7" y="308.30" width="36.4" height="5.45" fill="#00FFBC" opacity="0.45"/>
<rect x="468.7" y="308.30" width="36.4" height="4.35" fill="#00FFBC"/>
<rect x="468.7" y="313.75" width="36.4" height="5.45" fill="#00FFD8" opacity="0.45"/>
<rect x="468.7" y="313.75" width="36.4" height="4.35" fill="#00FFD8"/>
<rect x="468.7" y="319.19" width="36.4" height="5.45" fill="#00FFFF" opacity="0.45"/>
<rect x="468.7" y="319.19" width="36.4" height="4.35" fill="#00FFFF"/>
<rect x="468.7" y="324.64" width="36.4" height="5.45" fill="#00E0FF" opacity="0.45"/>
<rect x="468.7" y="324.64" width="36.4" height="4.35" fill="#00E0FF"/>
<rect x="468.7" y="330.09" width="36.4" height="5.45" fill="#00C4FF" opacity="0.45"/>
<rect x="468.7" y="330.09" width="36.4" height="4.35" fill="#00C4FF"/>
<rect x="468.7" y="335.54" width="36.4" height="5.45" fill="#00A8FF" opacity="0.45"/>
<rect x="468.7" y="335.54" width="36.4" height="4.35" fill="#00A8FF"/>
<rect x="468.7" y="340.98" width="36.4" height="5.45" fill="#008CFF" opacity="0.45"/>
<rect x="468.7" y="340.98" width="36.4" height="4.35" fill="#008CFF"/>
<rect x="468.7" y="346.43" width="36.4" height="5.45" fill="#0070FF" opacity="0.45"/>
<rect x="468.7" y="346.43" width="36.4" height="4.35" fill="#0070FF"/>
<rect x="468.7" y="351.88" width="36.4" height="5.45" fill="#0055FF" opacity="0.45"/>
<rect x="468.7" y="351.88" width="36.4" height="4.35" fill="#0055FF"/>
<rect x="468.7" y="357.32" width="36.4" height="5.45" fill="#0000FF" opacity="0.45"/>
<rect x="468.7" y="357.32" width="36.4" height="4.35" fill="#0000FF"/>
<rect x="468.7" y="362.77" width="36.4" height="5.45" fill="#5A00FF" opacity="0.45"/>
<rect x="468.7" y="362.77" width="36.4" height="4.35" fill="#5A00FF"/>
<rect x="468.7" y="368.22" width="36.4" height="5.45" fill="#7400FF" opacity="0.45"/>
<rect x="468.7" y="368.22" width="36.4" height="4.35" fill="#7400FF"/>
<rect x="468.7" y="373.66" width="36.4" height="5.45" fill="#9000FF" opacity="0.45"/>
<rect x="468.7" y="373.66" width="36.4" height="4.35" fill="#9000FF"/>
<rect x="468.7" y="379.11" width="36.4" height="5.45" fill="#AA00FF" opacity="0.45"/>
<rect x="468.7" y="379.11" width="36.4" height="4.35" fill="#AA00FF"/>
<rect x="468.7" y="384.56" width="36.4" height="5.45" fill="#C800FF" opacity="0.45"/>
<rect x="468.7" y="384.56" width="36.4" height="4.35" fill="#C800FF"/>
<rect x="468.7" y="390.01" width="36.4" height="5.45" fill="#E400FF" opacity="0.45"/>
<rect x="468.7" y="390.01" width="36.4" height="4.35" fill="#E400FF"/>
<rect x="468.7" y="395.45" width="36.4" height="5.45" fill="#FF00FF" opacity="0.45"/>
<rect x="468.7" y="395.45" width="36.4" height="4.35" fill="#FF00FF"/>
<g font-family="'Liberation Serif','Times New Roman',serif" font-weight="bold" fill="#000" font-size="18.2" text-anchor="middle">
<text x="492.8" y="155.7">acceptor trap</text>
<text x="492.8" y="177.9">ionized density</text>
<text x="493" y="199">(cm<tspan dy="-6" font-size="11">-3</tspan><tspan dy="6">)</tspan></text>
</g>
<text x="508" y="221.2" font-family="'Liberation Serif','Times New Roman',serif" font-weight="bold" font-size="18.6">17.8</text>
<text x="513.2" y="403.2" font-family="'Liberation Serif','Times New Roman',serif" font-weight="bold" font-size="18">0</text></g>
<text x="553" y="436" font-family="'Liberation Serif','Times New Roman',serif" font-size="38.8" fill="#000">(a)</text>
<g transform="matrix(0.9958 0 0 0.9958 607.0 2.8)"><rect x="33.8" y="1.5" width="390.5" height="67.2" fill="#E400FF"/>
<path fill="#9000FF" d="M284 68.7 L300 67.6 L376.3 64.0 L376.3 68.7Z"/>
<path fill="#0000FF" d="M296 68.7 L376.3 64.3 L376.3 68.7Z"/>
<path fill="#008CFF" d="M303 68.7 L376.3 65.0 L376.3 68.7Z"/>
<path fill="#00E0FF" d="M311 68.7 L376.3 65.7 L376.3 68.7Z"/>
<path fill="#00FFD8" d="M322 68.7 L376.3 66.6 L376.3 68.7Z"/>
<rect x="79.6" y="64.4" width="9.4" height="4.3" fill="#00FFFF"/>
<rect x="79.6" y="66.0" width="9.4" height="2.7" fill="#80FF00"/>
<rect x="79.6" y="67.3" width="9.4" height="1.4" fill="#E4FF00"/>
<rect x="33.8" y="68.7" width="390.5" height="336.7" fill="#FF00FF"/>
<path fill="#E400FF" fill-rule="evenodd" d="M33.8 68.7L88.3 68.7 88.3 169.2 109.3 169.3 115.8 169.2 115.9 141.7 116.0 138.2 116.3 136.9 131.8 136.8 151.3 137.9 161.8 139.2 169.8 140.5 173.8 138.3 177.8 137.4 201.8 141.2 204.8 139.9 211.6 129.7 216.8 125.5 222.8 123.7 249.3 121.4 254.8 119.8 258.8 117.1 263.8 112.5 268.8 106.7 275.7 97.2 282.7 85.7 289.7 68.7 424.3 68.7 424.3 405.4 33.8 405.4 33.8 68.7Z"/>
<path fill="#C800FF" fill-rule="evenodd" d="M33.8 68.7L88.3 68.7 88.3 169.2 109.3 169.3 115.8 169.2 115.9 144.7 116.3 138.2 118.3 138.4 133.3 138.2 152.8 139.4 162.8 140.6 170.8 141.9 175.3 139.7 179.3 138.9 202.8 142.7 205.8 141.6 206.2 141.2 212.9 131.2 218.3 126.9 224.3 125.2 250.8 122.8 256.1 121.2 259.8 118.7 265.3 113.7 270.1 108.2 276.9 98.7 284.0 87.2 291.6 68.7 424.3 68.7 424.3 405.4 33.8 405.4 33.8 68.7Z"/>
<path fill="#AA00FF" fill-rule="evenodd" d="M33.8 68.7L88.3 68.7 88.3 169.2 109.3 169.4 115.8 169.4 115.9 169.2 116.0 145.7 116.3 139.5 119.8 139.8 134.3 139.7 153.8 140.8 164.3 142.1 172.3 143.4 176.3 141.3 180.3 140.3 204.3 144.1 207.3 142.9 214.3 132.5 219.3 128.5 225.3 126.7 252.3 124.2 257.3 122.7 261.3 120.0 266.3 115.4 271.3 109.7 278.3 100.0 285.2 88.7 293.5 68.7 424.3 68.7 424.3 405.4 33.8 405.4 33.8 68.7Z"/>
<path fill="#9000FF" fill-rule="evenodd" d="M33.8 68.7L88.2 68.7 88.2 169.2 109.3 169.5 115.8 169.5 115.9 169.2 116.0 148.2 116.3 140.7 120.8 141.3 135.8 141.1 155.3 142.3 165.3 143.5 173.3 144.9 177.6 142.7 181.8 141.8 200.8 144.9 205.8 145.5 208.7 144.2 215.4 134.2 220.8 129.8 226.8 128.1 253.3 125.7 258.8 124.0 262.8 121.3 267.7 116.7 272.5 111.2 279.4 101.7 286.5 90.2 295.4 68.7 424.3 68.7 424.3 405.4 33.8 405.4 33.8 68.7Z"/>
<path fill="#7400FF" fill-rule="evenodd" d="M33.8 68.7L88.2 68.7 88.2 169.2 89.3 169.4 109.3 169.6 115.8 169.5 115.9 169.2 116.0 149.7 116.3 142.0 121.8 142.8 136.8 142.6 156.8 143.8 166.8 145.0 174.8 146.3 178.8 144.2 182.8 143.2 206.8 147.0 209.9 145.7 216.8 135.4 221.8 131.4 227.8 129.6 254.8 127.2 259.8 125.7 263.8 123.0 269.0 118.2 273.8 112.7 280.8 103.0 287.8 91.6 297.3 68.7 424.3 68.7 424.3 405.4 33.8 405.4 33.8 68.7Z"/>
<path fill="#5A00FF" fill-rule="evenodd" d="M33.8 68.7L88.2 68.7 88.2 169.2 89.3 169.4 109.3 169.6 115.8 169.6 115.9 169.2 116.3 143.3 123.3 144.2 138.3 144.0 157.8 145.2 167.8 146.4 175.8 147.8 176.3 147.7 180.3 145.6 184.3 144.7 203.3 147.8 208.3 148.4 211.1 147.2 218.2 136.7 223.3 132.8 229.3 131.0 255.8 128.6 261.3 127.0 265.3 124.2 270.2 119.7 275.0 114.2 282.2 104.2 289.2 92.7 299.2 68.7 424.3 68.7 424.3 405.4 33.8 405.4 33.8 68.7Z"/>
<path fill="#0000FF" fill-rule="evenodd" d="M33.8 68.7L88.2 68.7 88.2 169.2 89.3 169.5 109.1 169.7 109.1 405.4 33.8 405.4 33.8 68.7ZM301.2 68.7L424.3 68.7 424.3 405.4 110.0 405.4 110.0 169.7 115.8 169.7 116.0 169.2 116.3 144.6 124.3 145.7 139.3 145.5 159.3 146.7 169.3 147.9 177.3 149.3 181.3 147.1 185.3 146.1 209.3 149.9 212.4 148.7 219.3 138.4 224.6 134.2 230.8 132.4 257.3 130.1 262.3 128.6 266.3 125.9 271.4 121.2 276.3 115.6 283.5 105.7 290.5 94.2 298.8 73.9 301.2 68.7Z"/>
<path fill="#0055FF" fill-rule="evenodd" d="M33.8 68.7L88.2 68.7 88.2 169.2 89.3 169.5 96.3 169.5 97.2 169.7 97.2 405.4 33.8 405.4 33.8 68.7ZM302.7 69.2L302.8 68.7 424.3 68.7 424.3 203.7 422.8 203.8 422.5 204.2 422.5 405.4 115.8 405.4 115.8 169.7 116.0 169.2 116.3 146.0 126.3 147.1 141.3 147.0 160.8 148.2 170.8 149.4 178.3 150.5 179.8 150.3 183.3 148.7 187.3 147.8 195.3 148.8 207.3 150.9 211.3 151.3 212.9 150.7 214.5 149.7 221.3 140.1 224.6 137.2 227.0 135.7 232.8 134.0 258.8 131.6 263.8 130.2 268.3 127.3 273.3 122.7 278.3 117.0 285.4 107.2 292.3 95.7 300.3 76.5 302.7 69.2Z"/>
<path fill="#0070FF" fill-rule="evenodd" d="M33.8 68.7L88.2 68.7 88.2 169.2 89.3 169.6 97.0 169.7 97.0 405.4 33.8 405.4 33.8 68.7ZM304.8 69.2L304.9 68.7 424.3 68.7 424.3 202.1 420.8 202.2 420.3 202.7 420.3 405.4 115.8 405.4 115.8 169.7 116.3 147.6 120.8 147.8 129.8 148.7 144.8 148.7 160.8 149.6 167.3 150.2 180.3 151.8 182.8 151.5 188.3 149.9 191.8 149.6 209.3 152.4 212.8 152.6 214.8 152.1 217.1 150.7 218.9 148.7 223.1 143.2 225.3 140.8 228.3 138.4 231.3 136.9 234.3 136.0 237.8 135.4 260.7 133.2 263.3 132.7 265.8 131.9 268.3 130.6 271.1 128.7 273.9 126.2 276.9 123.2 283.1 115.7 290.0 105.7 294.8 97.2 299.5 86.7 302.9 77.2 304.8 69.2Z"/>
<path fill="#008CFF" fill-rule="evenodd" d="M33.8 68.7L88.1 68.7 88.1 169.2 89.3 169.6 96.8 169.7 96.8 405.4 33.8 405.4 33.8 68.7ZM307.0 68.7L424.3 68.7 424.3 200.4 411.3 200.9 409.4 201.2 409.4 405.4 115.9 405.4 115.9 169.7 116.3 149.2 122.8 149.4 132.8 150.2 146.8 150.3 157.8 150.9 167.8 151.6 181.8 153.2 185.3 152.9 191.8 151.6 195.3 151.4 199.8 151.9 210.8 153.7 214.8 153.8 217.4 153.2 219.8 151.7 221.9 149.7 226.3 144.7 228.8 142.1 231.8 139.9 234.8 138.5 237.8 137.6 241.8 136.9 262.8 134.8 265.8 134.2 268.6 133.2 271.5 131.7 274.3 129.7 277.3 127.1 280.6 123.7 287.4 115.2 293.8 105.4 298.4 96.7 302.4 87.2 304.8 79.2 307.0 68.7Z"/>
<path fill="#00A8FF" fill-rule="evenodd" d="M33.8 68.7L88.1 68.7 88.1 169.2 89.3 169.6 96.6 169.7 96.6 405.4 33.8 405.4 33.8 68.7ZM309.2 68.7L424.3 68.7 424.3 198.7 400.3 199.7 396.6 200.2 396.6 405.4 115.9 405.4 115.9 169.7 116.3 150.8 124.3 151.0 136.8 151.8 156.8 152.2 168.8 153.0 183.8 154.5 187.8 154.4 195.3 153.3 198.8 153.3 203.3 153.7 212.8 155.0 216.8 155.1 219.8 154.3 222.6 152.7 225.0 150.7 232.3 143.7 235.1 141.7 238.3 140.2 241.4 139.2 245.3 138.5 264.8 136.4 268.3 135.6 271.3 134.6 274.0 133.2 277.0 131.2 279.9 128.7 283.4 125.2 286.8 121.2 290.2 116.7 293.7 111.7 296.7 106.7 301.1 98.2 304.4 89.7 307.0 80.2 309.2 68.7Z"/>
<path fill="#00C4FF" fill-rule="evenodd" d="M33.8 68.7L88.1 68.7 88.1 169.2 88.3 169.4 89.3 169.7 96.3 169.7 96.3 405.4 33.8 405.4 33.8 68.7ZM311.5 68.7L424.3 68.7 424.3 197.1 399.8 198.1 347.3 201.2 347.3 405.4 115.9 405.4 115.9 169.7 116.3 152.4 125.3 152.5 139.8 153.4 159.3 153.8 169.8 154.5 185.8 155.9 189.8 155.9 201.3 155.0 205.3 155.3 214.8 156.4 218.8 156.3 221.8 155.6 224.9 154.2 227.7 152.2 236.3 145.0 239.3 143.1 242.5 141.7 245.8 140.7 249.3 140.0 267.3 137.9 270.8 137.1 273.8 136.1 276.8 134.6 279.8 132.6 282.8 130.1 286.2 126.7 289.7 122.7 293.1 118.2 296.3 113.5 299.2 108.7 303.4 100.2 306.4 91.7 309.2 81.2 311.5 68.7Z"/>
<path fill="#00E0FF" fill-rule="evenodd" d="M33.8 68.7L88.1 68.7 88.1 169.2 88.3 169.5 89.2 169.7 89.2 405.4 33.8 405.4 33.8 68.7ZM314.0 68.7L424.3 68.7 424.3 195.3 399.3 196.4 353.3 199.2 303.3 201.4 300.1 201.7 298.7 202.2 298.7 405.4 116.0 405.4 116.0 169.7 116.3 154.0 127.8 154.2 143.3 154.9 161.8 155.4 188.3 157.4 204.3 156.8 216.3 157.6 220.8 157.6 224.7 156.7 228.0 155.2 231.2 153.2 240.3 146.4 243.3 144.7 246.3 143.4 249.3 142.5 253.0 141.7 269.8 139.5 273.3 138.6 276.8 137.3 280.0 135.7 283.0 133.7 286.3 130.9 289.6 127.7 293.0 123.7 296.0 119.7 299.0 115.2 301.6 110.7 305.4 102.7 308.5 93.7 311.4 82.2 314.0 68.7Z"/>
<path fill="#00FFFF" fill-rule="evenodd" d="M33.8 68.7L88.1 68.7 88.1 169.2 89.0 169.7 89.0 405.4 33.8 405.4 33.8 68.7ZM316.6 68.7L424.3 68.7 424.3 192.3 398.3 193.4 353.9 195.7 300.3 197.7 267.2 203.2 266.9 203.7 266.9 232.7 266.6 234.7 265.2 235.7 260.8 236.7 246.3 238.2 239.9 239.2 237.8 240.2 237.2 241.2 237.1 405.4 116.0 405.4 116.0 169.7 116.3 155.6 130.3 155.8 163.8 157.0 191.3 158.8 206.8 158.5 218.3 159.0 222.8 158.8 226.8 158.1 230.8 156.5 234.8 154.2 244.3 148.0 250.3 145.1 253.3 144.2 257.3 143.3 272.8 140.9 276.3 139.9 279.6 138.7 282.8 137.1 286.3 134.7 289.4 132.2 292.4 129.2 295.5 125.7 298.5 121.7 301.2 117.7 303.7 113.2 307.6 104.7 310.8 95.2 313.7 83.7 316.6 68.7Z"/>
<path fill="#00FFD8" fill-rule="evenodd" d="M33.8 68.7L88.1 68.7 88.1 169.2 88.8 169.7 88.8 405.4 33.8 405.4 33.8 68.7ZM319.2 68.7L424.3 68.7 424.3 186.6 409.8 186.7 395.2 187.2 392.8 187.5 386.8 187.7 384.3 188.1 378.4 188.2 375.8 188.6 353.4 189.7 347.3 190.2 345.8 190.5 342.8 190.7 341.3 191.0 338.3 191.2 336.8 191.5 301.8 195.2 261.7 200.2 241.3 203.2 239.3 203.7 232.6 206.2 228.8 208.7 225.3 211.2 224.8 212.2 220.3 228.4 220.1 231.2 219.8 232.0 219.7 236.7 219.3 238.2 219.1 243.2 218.8 244.4 218.7 249.2 218.3 250.7 218.2 260.2 217.8 262.2 217.7 278.7 217.6 280.2 217.3 280.7 217.2 297.7 217.2 298.7 216.8 299.6 216.8 405.4 116.0 405.4 116.0 169.7 116.3 157.2 132.8 157.4 165.8 158.6 194.3 160.3 220.3 160.4 224.8 160.2 229.8 159.3 234.0 157.7 237.9 155.7 248.3 149.5 254.8 146.7 260.8 145.1 275.3 142.4 278.8 141.5 282.2 140.2 285.3 138.6 288.8 136.4 291.8 134.0 294.8 131.2 297.8 127.9 300.6 124.2 303.3 120.2 305.6 116.2 309.6 107.2 313.1 96.7 316.1 84.7 319.2 68.7Z"/>
<path fill="#00FFBC" fill-rule="evenodd" d="M33.8 68.7L88.1 68.7 88.1 169.2 88.7 169.7 88.7 405.4 33.8 405.4 33.8 68.7ZM322.1 68.7L424.3 68.7 424.3 185.4 399.8 185.9 349.8 188.7 299.8 193.9 260.3 198.5 239.8 201.4 231.8 204.3 225.3 208.6 224.8 209.5 220.3 224.7 219.6 230.2 218.0 250.7 216.8 294.7 216.3 405.4 116.1 405.4 116.0 169.7 116.3 158.8 135.8 159.0 166.3 160.1 198.3 161.9 220.3 161.9 226.8 161.6 232.1 160.7 237.3 159.0 242.0 156.7 252.3 151.2 258.8 148.4 265.0 146.7 278.3 143.9 284.8 141.7 288.3 140.0 291.3 138.1 294.4 135.7 297.6 132.7 300.8 129.2 303.3 125.8 305.8 122.0 308.1 117.7 312.1 108.7 315.7 97.7 319.0 84.2 322.1 68.7Z"/>
<path fill="#00FFA8" fill-rule="evenodd" d="M33.8 68.7L88.0 68.7 88.0 169.2 88.7 169.7 88.7 405.4 33.8 405.4 33.8 68.7ZM325.0 68.7L424.3 68.7 424.3 184.4 399.8 184.9 349.8 187.5 299.8 192.4 260.3 196.7 239.8 199.4 231.8 202.0 225.3 206.1 224.8 206.9 220.3 221.1 219.8 224.3 218.5 238.2 218.0 246.7 216.8 283.4 216.3 380.9 215.5 405.4 116.1 405.4 116.1 169.7 116.3 160.4 146.3 160.8 173.8 161.9 202.8 163.4 220.3 163.5 228.8 163.1 234.8 162.1 240.3 160.4 245.4 158.2 256.8 152.6 263.3 150.0 268.8 148.4 281.3 145.4 287.5 143.2 290.8 141.6 294.3 139.4 297.3 137.1 300.4 134.2 303.1 131.2 305.8 127.7 308.3 123.7 310.5 119.7 314.6 110.2 318.2 99.2 321.7 85.2 325.0 68.7Z"/>
<path fill="#00FF94" fill-rule="evenodd" d="M33.8 68.7L88.0 68.7 88.0 169.2 88.6 169.7 88.6 405.4 33.8 405.4 33.8 68.7ZM328.1 68.7L424.3 68.7 424.3 183.4 399.8 183.9 349.8 186.3 299.8 190.9 260.3 194.9 239.8 197.3 231.8 199.8 225.3 203.6 224.8 204.3 220.3 217.5 219.6 222.2 218.1 239.7 216.8 275.5 216.3 355.5 214.8 394.2 214.2 405.4 209.3 405.4 206.8 389.7 200.8 377.4 198.3 383.7 196.0 390.7 194.2 398.2 192.9 405.4 116.1 405.4 116.1 169.7 116.3 162.0 134.8 162.1 149.8 162.5 175.3 163.4 207.3 165.0 221.8 165.0 230.8 164.6 236.8 163.7 242.8 162.1 247.7 160.2 259.8 154.7 265.8 152.3 271.8 150.4 284.3 147.0 290.3 144.7 293.8 143.0 297.3 140.8 300.3 138.4 303.2 135.7 305.8 132.7 308.4 129.2 310.9 125.2 313.1 121.2 317.3 111.2 320.9 100.2 324.5 86.2 328.1 68.7Z"/>
<path fill="#00FF80" fill-rule="evenodd" d="M33.8 68.7L88.0 68.7 88.0 169.2 88.6 169.7 88.6 405.4 33.8 405.4 33.8 68.7ZM331.3 69.2L331.4 68.7 424.3 68.7 424.3 182.4 399.8 182.8 349.8 185.2 299.8 189.4 260.3 193.0 239.8 195.3 231.8 197.6 225.3 201.0 224.8 201.7 220.3 213.9 219.8 216.7 218.2 231.7 216.8 267.5 216.3 330.0 215.3 354.3 213.3 386.4 212.8 387.3 211.8 384.9 209.8 364.6 206.8 346.2 206.3 344.6 200.8 328.6 194.3 328.9 193.8 329.1 193.3 330.2 190.7 336.7 188.7 343.2 186.3 352.2 184.3 364.7 180.1 405.4 116.1 405.4 116.1 169.7 116.3 163.6 137.3 163.7 153.3 164.1 211.8 166.5 223.8 166.6 232.8 166.1 239.8 165.1 247.0 163.2 252.5 161.2 269.3 154.2 286.3 148.9 292.3 146.6 296.2 144.7 299.5 142.7 302.7 140.2 305.4 137.7 308.1 134.7 310.8 131.2 313.3 127.2 315.5 123.2 319.6 113.7 323.8 101.2 327.7 86.2 331.3 69.2Z"/>
<path fill="#28FF00" fill-rule="evenodd" d="M33.8 68.7L88.0 68.7 88.0 169.2 88.5 169.7 88.5 405.4 33.8 405.4 33.8 68.7ZM334.8 68.7L424.3 68.7 424.3 181.5 399.8 181.8 349.8 184.0 260.3 191.2 239.8 193.2 231.8 195.3 225.3 198.5 224.8 199.1 220.3 210.3 219.8 212.8 218.3 225.8 217.7 234.7 216.8 259.5 216.3 310.0 216.0 319.2 214.8 341.7 213.3 351.5 212.8 351.6 212.5 351.2 211.8 349.0 211.0 340.2 210.1 323.7 208.7 319.2 207.9 315.7 206.5 302.2 204.1 298.7 202.7 294.7 201.6 288.7 200.8 280.0 199.1 278.7 197.8 277.1 196.7 275.2 195.8 272.7 194.5 265.7 193.8 258.5 191.8 257.4 190.7 256.2 189.8 253.2 189.3 247.7 188.8 247.5 188.2 246.7 187.8 244.7 186.8 244.5 186.3 244.1 185.9 248.7 185.6 249.7 184.8 250.7 184.0 262.7 183.3 266.2 182.3 268.5 181.9 276.2 181.3 279.7 180.9 286.7 180.2 291.7 179.4 315.7 178.8 326.6 178.2 323.2 177.4 316.2 175.8 315.9 174.8 315.4 174.2 314.2 173.8 306.2 171.3 305.3 170.3 303.1 169.9 306.7 169.3 309.2 168.4 311.2 167.2 312.7 165.9 322.2 165.2 324.7 164.3 326.6 162.9 405.4 116.2 405.4 116.3 165.3 157.9 165.7 214.8 168.1 227.8 168.1 236.3 167.6 243.8 166.4 251.3 164.4 258.3 161.9 271.3 156.7 288.3 151.0 294.8 148.4 298.8 146.4 301.8 144.6 305.3 141.9 308.2 139.2 313.1 133.2 316.0 128.7 318.2 124.7 322.6 114.7 327.1 101.2 331.1 85.7 334.8 68.7Z"/>
<path fill="#80FF00" fill-rule="evenodd" d="M33.8 68.7L88.0 68.7 88.0 169.2 88.5 169.7 88.5 405.4 33.8 405.4 33.8 68.7ZM339.9 68.7L424.3 68.7 424.3 180.5 399.8 180.8 349.8 182.8 260.3 189.4 239.8 191.2 231.8 193.1 225.3 195.9 224.8 196.5 220.3 206.7 219.8 209.0 218.3 220.8 217.7 229.2 216.8 251.5 216.3 295.0 214.8 325.6 213.3 336.4 212.5 332.7 211.8 324.2 210.2 310.2 208.6 306.2 206.8 291.7 204.3 284.2 200.9 266.7 199.3 264.1 198.2 261.7 193.9 247.7 191.5 244.2 189.4 238.2 186.9 234.7 186.3 233.4 185.7 235.2 184.8 236.7 183.6 244.2 182.3 249.1 181.9 253.2 181.2 256.7 180.6 264.2 178.8 280.2 177.8 308.0 177.3 309.3 176.8 304.7 175.9 303.2 174.2 302.2 173.4 296.7 172.8 294.1 171.8 292.2 170.5 290.7 166.8 280.6 163.3 280.0 162.8 279.7 162.3 280.4 160.0 281.2 158.8 282.2 155.8 282.7 155.4 354.7 154.9 405.4 116.2 405.4 116.3 167.6 155.3 167.9 193.1 169.2 244.7 169.2 252.4 167.7 260.8 165.2 289.8 154.7 296.3 152.1 300.8 150.0 304.6 147.7 308.1 145.2 310.9 142.7 313.8 139.7 316.6 136.2 319.2 132.2 321.8 127.7 324.2 122.7 326.6 117.2 331.1 104.2 335.5 88.2 339.9 68.7Z"/>
<path fill="#A8FF00" fill-rule="evenodd" d="M33.8 68.7L88.0 68.7 88.0 169.2 88.4 169.7 88.4 405.4 33.8 405.4 33.8 68.7ZM345.5 68.7L424.3 68.7 424.3 179.5 399.8 179.8 349.8 181.6 260.3 187.5 239.8 189.1 231.8 190.8 225.3 193.4 224.8 193.9 220.3 203.1 219.8 205.1 218.3 215.8 217.7 223.2 216.8 243.6 216.3 280.0 215.3 302.3 214.8 310.9 213.3 322.4 211.3 309.2 210.2 305.7 209.8 303.6 206.8 282.6 202.7 264.7 197.4 247.7 196.2 245.7 193.8 242.7 192.3 238.2 191.4 236.2 187.4 230.2 186.3 228.1 185.7 230.2 184.0 234.2 182.3 242.0 178.8 267.0 177.3 266.2 173.8 266.6 170.3 265.1 163.8 264.0 157.3 261.8 155.8 261.1 153.8 262.3 148.5 262.7 148.3 263.2 148.2 405.4 116.2 405.4 116.3 169.2 260.4 169.2 267.3 167.2 274.8 164.7 290.3 159.0 298.3 155.8 303.3 153.4 307.3 151.1 310.8 148.7 314.3 145.7 317.3 142.6 320.5 138.7 323.2 134.7 325.8 130.2 328.4 125.2 330.8 119.7 333.3 113.2 335.8 105.7 340.7 88.7 345.5 68.7ZM374.8 100.4L374.3 102.7 373.7 115.7 373.5 169.2 374.8 169.3 375.7 169.2 375.6 114.2 375.3 104.4 374.8 100.4Z"/>
<path fill="#C8FF00" fill-rule="evenodd" d="M33.8 68.7L87.9 68.7 87.9 169.2 88.4 169.7 88.4 405.4 33.8 405.4 33.8 68.7ZM351.3 68.7L424.3 68.7 424.3 178.5 399.8 178.8 350.3 180.4 260.3 185.7 239.8 187.1 231.8 188.6 225.3 190.8 224.8 191.3 220.3 199.5 219.8 201.3 218.3 210.8 217.7 217.7 216.8 235.6 216.3 265.0 215.3 287.3 214.5 300.2 213.3 310.3 211.8 303.0 210.3 297.3 208.1 280.2 206.8 272.5 200.8 247.7 199.4 244.2 192.6 231.2 191.3 229.6 188.3 227.1 186.3 225.0 182.9 233.2 181.8 238.7 179.8 250.7 178.8 255.0 170.3 255.8 164.3 254.0 162.8 253.0 161.3 252.4 155.8 251.0 154.8 251.0 149.3 252.4 147.8 252.0 145.3 251.9 143.8 251.5 142.8 252.0 139.8 252.2 139.6 405.4 116.3 405.4 116.3 169.4 274.2 169.2 286.8 165.0 299.3 160.1 304.8 157.6 309.3 155.1 313.6 152.2 317.3 149.2 320.8 145.8 323.9 142.2 326.8 138.1 329.8 133.2 332.7 127.7 335.2 122.2 338.0 115.2 340.7 107.7 346.1 89.7 351.3 68.7ZM374.8 92.4L374.3 93.6 373.8 97.6 372.9 115.2 372.7 129.7 372.6 169.2 374.8 169.3 376.4 169.2 376.3 106.9 375.7 96.2 375.3 93.3 374.8 92.4Z"/>
<path fill="#E4FF00" fill-rule="evenodd" d="M33.8 68.7L87.9 68.7 87.9 169.2 88.3 169.7 88.3 405.4 33.8 405.4 33.8 68.7ZM357.2 69.2L357.4 68.7 424.3 68.7 424.3 177.5 399.8 177.7 350.3 179.2 259.8 183.9 239.8 185.1 231.8 186.3 225.3 188.3 224.8 188.7 220.3 195.9 219.8 197.7 218.2 206.7 216.8 227.6 216.3 250.0 214.9 279.2 213.3 298.5 211.8 292.9 210.3 285.4 208.2 269.2 205.0 252.2 203.1 244.2 201.5 238.7 199.8 234.3 196.9 228.2 193.8 222.9 191.8 221.8 189.3 220.9 188.3 221.9 187.8 222.0 187.3 221.4 186.3 220.8 185.5 221.7 184.3 225.6 183.3 226.4 182.6 227.7 181.6 231.2 179.8 240.3 178.8 242.9 177.8 243.3 173.8 242.9 168.3 240.5 162.8 238.5 160.3 238.0 154.8 238.0 148.8 238.9 143.8 235.4 140.3 234.0 136.3 234.7 133.9 235.7 133.3 236.2 132.9 405.4 116.3 405.4 116.3 169.5 130.3 169.3 374.8 169.4 395.4 169.2 393.3 167.5 391.8 166.0 390.3 164.0 388.8 161.4 386.3 155.5 383.8 146.6 381.7 135.7 379.6 121.2 378.5 111.7 378.4 108.7 378.0 106.7 377.8 102.7 377.5 101.2 377.3 96.7 377.0 95.7 376.8 93.2 376.4 92.2 376.3 85.5 375.8 84.7 375.3 84.4 374.8 84.9 374.3 86.4 373.8 89.2 372.3 106.2 371.8 108.8 371.3 110.0 370.3 110.7 368.3 111.1 363.3 111.4 362.3 111.9 361.7 112.7 361.1 114.7 360.6 117.7 359.8 132.3 359.2 137.2 358.7 139.2 357.8 141.0 357.3 141.2 356.3 139.3 355.7 136.7 355.2 132.2 354.5 111.7 353.9 102.2 353.1 95.2 352.0 89.7 357.2 69.2Z"/>
<path fill="#FFFF00" fill-rule="evenodd" d="M33.8 68.7L87.9 68.7 87.9 169.2 88.3 169.7 88.3 405.4 33.8 405.4 33.8 68.7ZM363.7 68.7L374.6 68.7 374.0 75.7 371.6 96.2 371.2 97.7 370.3 99.3 369.3 99.9 367.8 100.3 366.3 100.2 364.8 99.8 363.8 99.0 363.1 97.7 362.0 94.2 360.0 83.2 363.7 68.7ZM376.3 68.7L424.3 68.7 424.3 164.4 407.8 164.0 402.8 163.4 398.8 162.4 395.3 160.8 392.3 158.5 389.8 155.5 387.8 152.0 385.3 145.8 383.3 138.6 381.3 128.6 379.8 118.7 377.6 99.7 377.4 96.2 376.4 91.2 376.3 68.7ZM116.3 169.7L130.3 169.4 424.3 169.2 424.3 176.5 399.8 176.7 350.3 178.0 240.3 183.0 231.8 184.1 225.3 185.8 224.8 186.1 220.3 192.3 219.8 193.7 218.3 201.2 216.8 220.2 216.3 235.0 214.8 262.9 213.3 279.7 212.8 279.3 211.8 276.0 210.3 268.4 208.3 254.6 206.3 242.7 203.6 231.2 200.8 222.8 193.8 209.9 189.3 205.0 188.3 205.8 187.8 205.8 186.3 204.0 184.8 206.7 183.5 210.7 182.3 213.1 180.8 219.6 179.8 221.9 178.8 223.1 176.3 224.2 173.8 224.7 166.8 224.6 164.3 224.4 159.8 223.6 154.8 223.1 151.8 224.1 148.8 224.6 147.8 223.9 146.2 222.2 145.0 220.2 143.8 217.3 142.3 216.5 141.5 215.7 140.4 213.2 139.3 211.6 136.9 210.7 135.6 209.7 134.8 208.2 133.9 204.7 133.0 203.7 132.8 203.2 131.3 203.1 130.6 202.7 130.3 200.2 127.8 200.0 126.3 199.5 125.9 198.7 125.3 193.7 122.3 193.4 121.4 192.7 121.0 191.2 120.8 186.7 119.3 186.4 118.4 185.7 118.0 184.2 117.8 180.2 116.8 179.7 116.5 179.2 116.3 169.7Z"/>
<path fill="#FFDC00" fill-rule="evenodd" d="M33.8 68.7L87.9 68.7 87.9 169.2 88.2 169.7 88.2 405.4 33.8 405.4 33.8 68.7ZM370.4 68.7L372.7 68.7 372.4 73.2 371.9 76.7 371.3 79.1 370.3 81.2 369.3 82.2 367.8 82.5 367.1 82.2 367.0 81.7 370.4 68.7ZM376.4 68.7L424.3 68.7 424.3 155.7 407.8 155.3 402.8 154.7 398.8 153.8 395.3 152.4 392.3 150.4 389.8 147.7 387.8 144.7 385.3 139.1 383.3 132.8 381.3 124.0 379.8 115.2 378.3 104.0 377.5 96.2 376.5 90.7 376.4 68.7ZM117.3 169.7L140.8 169.5 424.3 169.3 424.3 175.5 393.8 175.8 349.8 176.8 304.2 178.7 240.3 180.9 231.8 181.8 225.3 183.2 224.6 183.7 220.0 189.2 218.1 197.2 216.5 214.2 214.8 245.4 213.3 258.8 212.8 258.8 211.8 255.9 210.3 248.4 207.0 226.7 206.0 222.7 203.7 215.7 201.0 209.2 197.8 203.7 193.8 196.0 191.5 194.7 189.3 193.0 188.3 193.9 187.8 193.9 187.0 193.2 186.3 192.1 184.8 193.4 182.3 202.9 179.8 211.2 178.8 213.9 177.3 216.0 175.3 217.0 174.3 217.7 170.8 218.3 167.3 218.4 156.3 216.9 148.8 216.3 147.8 215.5 146.3 213.4 144.3 212.1 142.6 209.7 140.8 208.5 139.3 206.5 137.7 203.2 136.3 201.6 133.3 199.2 131.6 196.7 129.8 194.8 128.6 192.7 124.8 187.8 122.8 183.6 121.1 178.2 119.8 176.4 118.8 174.3 117.3 169.7Z"/>
<path fill="#FFC000" fill-rule="evenodd" d="M33.8 68.7L87.9 68.7 87.9 169.2 88.2 169.7 88.1 405.4 33.8 405.4 33.8 68.7ZM376.5 68.7L424.3 68.7 424.3 147.0 407.3 146.6 402.3 146.0 398.3 145.2 394.8 143.9 391.8 141.9 389.3 139.4 387.3 136.5 384.8 131.3 382.8 125.3 380.8 117.0 379.3 108.8 377.5 95.2 376.5 90.2 376.5 68.7ZM119.5 169.7L144.3 169.5 424.3 169.4 424.3 174.0 399.8 174.2 350.3 175.0 299.8 176.6 240.3 177.9 231.8 178.4 225.3 179.4 220.3 183.3 219.8 184.1 218.3 188.4 217.7 191.7 216.8 199.7 216.3 201.2 214.8 222.4 213.3 229.5 212.4 226.7 208.5 207.7 206.8 201.3 204.7 197.2 203.1 194.7 198.0 188.2 196.7 187.2 193.8 185.7 189.3 185.2 188.3 185.8 187.8 185.8 186.3 184.8 184.8 185.4 183.7 186.7 178.8 194.3 176.3 196.1 173.8 198.6 170.3 200.0 166.8 200.5 164.3 200.5 162.8 200.0 148.8 198.0 147.8 197.6 139.3 191.9 134.3 189.4 130.3 187.0 125.8 181.1 124.3 177.7 122.3 174.2 120.8 172.2 119.5 169.7Z"/>
<path fill="#FFA400" fill-rule="evenodd" d="M33.8 68.7L87.9 68.7 87.9 169.2 88.1 169.7 88.0 405.4 33.8 405.4 33.8 68.7ZM376.5 68.7L424.3 68.7 424.3 138.2 407.3 137.9 402.3 137.4 398.3 136.7 394.8 135.5 391.8 133.9 389.3 131.7 387.3 129.3 384.8 124.9 382.8 119.8 380.8 112.8 378.8 103.1 377.5 94.2 376.6 90.2 376.5 68.7ZM122.2 169.7L424.3 169.5 424.3 172.6 351.8 173.2 299.8 174.4 239.8 174.8 231.8 175.1 225.3 175.6 220.3 177.9 219.8 178.4 218.0 181.7 216.8 187.7 216.3 184.1 214.7 191.2 213.3 194.8 212.8 194.2 211.8 191.1 210.3 187.4 209.8 186.7 206.3 183.8 200.8 181.0 193.8 179.5 188.3 180.8 186.3 180.4 183.8 181.4 182.3 182.8 178.8 184.6 177.3 185.0 170.8 186.0 154.8 186.0 147.8 185.6 143.8 184.4 133.9 180.2 130.3 179.0 125.8 174.1 122.2 169.7Z"/>
<path fill="#FF8C00" fill-rule="evenodd" d="M33.8 68.7L87.9 68.7 87.9 169.2 88.0 169.7 87.9 405.4 33.8 405.4 33.8 68.7ZM376.6 68.7L424.3 68.7 424.3 129.7 406.8 129.3 401.8 128.9 397.8 128.3 394.3 127.2 391.3 125.7 388.8 123.8 386.8 121.6 385.3 119.4 383.8 116.6 381.3 110.2 379.3 102.9 377.5 93.7 376.7 90.7 376.6 68.7ZM125.8 169.7L424.3 169.6 424.3 171.1 359.8 171.4 299.8 172.1 225.3 171.8 219.8 172.6 218.1 173.7 216.8 175.8 216.3 174.8 214.8 176.0 213.3 176.5 210.8 175.8 206.8 175.5 191.3 173.1 188.8 172.2 186.3 170.8 184.3 171.0 182.3 172.0 180.3 173.5 179.4 176.2 178.8 177.2 166.8 178.8 148.3 179.0 140.8 177.1 136.8 175.4 130.3 173.2 127.4 170.7 125.8 169.7Z"/>
<path fill="#FF7800" fill-rule="evenodd" d="M33.8 68.7L87.8 68.7 87.8 405.4 33.8 405.4 33.8 68.7ZM376.6 68.7L424.3 68.7 424.3 121.4 406.8 121.1 397.8 120.2 394.3 119.4 391.3 118.2 388.8 116.6 386.3 114.3 383.8 110.9 381.3 105.8 379.3 100.0 377.5 92.7 376.8 90.8 376.6 68.7ZM138.5 169.7L162.8 169.7 162.8 171.7 159.8 172.3 154.8 172.9 148.3 173.3 143.8 172.3 142.8 171.7 140.3 170.8 138.5 169.7ZM288.8 169.7L345.9 169.7 300.3 169.9 288.8 169.7Z"/>
<path fill="#FF5A00" fill-rule="evenodd" d="M33.8 68.7L87.8 68.7 87.8 374.4 33.8 374.4 33.8 68.7ZM376.7 68.7L424.3 68.7 424.3 113.1 406.8 112.8 397.3 112.1 393.8 111.4 390.8 110.4 388.3 109.1 385.8 107.3 383.3 104.5 381.3 101.4 379.3 97.2 377.5 91.7 376.8 90.5 376.7 68.7Z"/>
<path fill="#FF3300" fill-rule="evenodd" d="M33.8 68.7L87.8 68.7 87.8 297.4 33.8 297.4 33.8 68.7ZM376.8 68.7L424.3 68.7 424.3 104.8 405.8 104.6 396.3 104.0 392.3 103.3 389.3 102.4 386.8 101.4 384.3 99.8 382.3 98.1 380.3 95.8 376.8 90.0 376.8 68.7Z"/>
<rect x="33.8" y="68.7" width="54.0" height="228.8" fill="#FF3300"/>
<rect x="33.8" y="297.5" width="54.0" height="77" fill="#FF6400"/>
<rect x="33.8" y="374.5" width="54.0" height="30.9" fill="#FF7F00"/>
<line x1="70.90" y1="1.5" x2="70.90" y2="68.7" stroke="#1a0020" stroke-width="1.3"/>
<line x1="79.10" y1="1.5" x2="79.10" y2="68.7" stroke="#1a0020" stroke-width="1.3"/>
<line x1="92.25" y1="1.5" x2="92.25" y2="68.7" stroke="#1a0020" stroke-width="1.3"/>
<line x1="112.10" y1="1.5" x2="112.10" y2="68.7" stroke="#1a0020" stroke-width="1.3"/>
<line x1="377.00" y1="1.5" x2="377.00" y2="68.7" stroke="#1a0020" stroke-width="1.3"/>
<line x1="387.70" y1="1.5" x2="387.70" y2="68.7" stroke="#1a0020" stroke-width="1.3"/>
<line x1="19.7" y1="68.7" x2="424.3" y2="68.7" stroke="#222" stroke-width="1.3"/>
<line x1="33.8" y1="169.4" x2="424.3" y2="169.4" stroke="#111" stroke-width="1.3"/>
<rect x="33.8" y="1.5" width="390.5" height="403.9" fill="none" stroke="#333" stroke-width="1.1"/>
<path d="M26.4 18.2H33.8M26.4 35.0H33.8M26.4 51.9H33.8M19.7 68.7H33.8M26.4 85.5H33.8M26.4 102.4H33.8M26.4 119.2H33.8M19.7 136.0H33.8M26.4 152.9H33.8M26.4 169.7H33.8M26.4 186.5H33.8M19.7 203.4H33.8M26.4 220.2H33.8M26.4 237.1H33.8M26.4 253.9H33.8M19.7 270.7H33.8M26.4 287.6H33.8M26.4 304.4H33.8M26.4 321.2H33.8M19.7 338.1H33.8M26.4 354.9H33.8M26.4 371.7H33.8M26.4 388.6H33.8M19.7 405.4H33.8" stroke="#555" stroke-width="1.2" fill="none"/>
<text x="14.3" y="71.1" text-anchor="end" font-family="'Liberation Sans',Arial,sans-serif" font-size="6.6" fill="#444">0</text>
<text x="14.3" y="138.4" text-anchor="end" font-family="'Liberation Sans',Arial,sans-serif" font-size="6.6" fill="#444">0.01</text>
<text x="14.3" y="205.8" text-anchor="end" font-family="'Liberation Sans',Arial,sans-serif" font-size="6.6" fill="#444">0.02</text>
<text x="14.3" y="273.1" text-anchor="end" font-family="'Liberation Sans',Arial,sans-serif" font-size="6.6" fill="#444">0.03</text>
<text x="14.3" y="340.5" text-anchor="end" font-family="'Liberation Sans',Arial,sans-serif" font-size="6.6" fill="#444">0.04</text>
<text x="14.3" y="407.8" text-anchor="end" font-family="'Liberation Sans',Arial,sans-serif" font-size="6.6" fill="#444">0.05</text>
<path d="M45.8 405.4V411M61.3 405.4V411M76.7 405.4V411M92.1 405.4V414M107.5 405.4V411M122.9 405.4V411M138.4 405.4V411M153.8 405.4V414M169.2 405.4V411M184.6 405.4V411M200.0 405.4V411M215.5 405.4V414M230.9 405.4V411M246.3 405.4V411M261.7 405.4V411M277.1 405.4V414M292.6 405.4V411M308.0 405.4V411M323.4 405.4V411M338.8 405.4V414M354.2 405.4V411M369.7 405.4V411M385.1 405.4V411M400.5 405.4V414M415.9 405.4V411" stroke="#555" stroke-width="1.2" fill="none"/>
<line x1="19.7" y1="405.4" x2="33.8" y2="405.4" stroke="#444" stroke-width="1.2"/>
<text x="92.4" y="428.8" text-anchor="middle" font-family="'Liberation Sans',Arial,sans-serif" font-size="6.6" fill="#444">0</text>
<text x="154.1" y="428.8" text-anchor="middle" font-family="'Liberation Sans',Arial,sans-serif" font-size="6.6" fill="#444">4</text>
<text x="215.8" y="428.8" text-anchor="middle" font-family="'Liberation Sans',Arial,sans-serif" font-size="6.6" fill="#444">8</text>
<text x="277.4" y="428.8" text-anchor="middle" font-family="'Liberation Sans',Arial,sans-serif" font-size="6.6" fill="#444">12</text>
<text x="339.1" y="428.8" text-anchor="middle" font-family="'Liberation Sans',Arial,sans-serif" font-size="6.6" fill="#444">16</text>
<text x="400.8" y="428.8" text-anchor="middle" font-family="'Liberation Sans',Arial,sans-serif" font-size="6.6" fill="#444">20</text>
<line x1="27.7" y1="202.7" x2="433" y2="202.7" stroke="#000" stroke-width="3.2" stroke-dasharray="11.8 9.4"/>
<g font-family="'Liberation Serif','Times New Roman',serif" font-weight="bold" fill="#000">
<text x="45.8" y="43" font-size="18">S</text>
<text x="399" y="43" font-size="18">D</text>
<text x="139.4" y="42.9" font-size="17.5">p-GaN</text>
<text x="368.6" y="163.6" font-size="18">AlGaN</text>
<text x="378" y="185.3" font-size="17.5">GaN</text>
</g>
<line x1="102.8" y1="37.9" x2="132.5" y2="37.9" stroke="#000" stroke-width="1.4"/>
<path d="M131.5 35.4L137 37.9L131.5 40.4Z" fill="#000"/>
<rect x="468.7" y="215.70" width="36.4" height="5.45" fill="#FF0000" opacity="0.45"/>
<rect x="468.7" y="215.70" width="36.4" height="4.35" fill="#FF0000"/>
<rect x="468.7" y="221.15" width="36.4" height="5.45" fill="#FF3300" opacity="0.45"/>
<rect x="468.7" y="221.15" width="36.4" height="4.35" fill="#FF3300"/>
<rect x="468.7" y="226.59" width="36.4" height="5.45" fill="#FF5A00" opacity="0.45"/>
<rect x="468.7" y="226.59" width="36.4" height="4.35" fill="#FF5A00"/>
<rect x="468.7" y="232.04" width="36.4" height="5.45" fill="#FF7800" opacity="0.45"/>
<rect x="468.7" y="232.04" width="36.4" height="4.35" fill="#FF7800"/>
<rect x="468.7" y="237.49" width="36.4" height="5.45" fill="#FF8C00" opacity="0.45"/>
<rect x="468.7" y="237.49" width="36.4" height="4.35" fill="#FF8C00"/>
<rect x="468.7" y="242.94" width="36.4" height="5.45" fill="#FFA400" opacity="0.45"/>
<rect x="468.7" y="242.94" width="36.4" height="4.35" fill="#FFA400"/>
<rect x="468.7" y="248.38" width="36.4" height="5.45" fill="#FFC000" opacity="0.45"/>
<rect x="468.7" y="248.38" width="36.4" height="4.35" fill="#FFC000"/>
<rect x="468.7" y="253.83" width="36.4" height="5.45" fill="#FFDC00" opacity="0.45"/>
<rect x="468.7" y="253.83" width="36.4" height="4.35" fill="#FFDC00"/>
<rect x="468.7" y="259.28" width="36.4" height="5.45" fill="#FFFF00" opacity="0.45"/>
<rect x="468.7" y="259.28" width="36.4" height="4.35" fill="#FFFF00"/>
<rect x="468.7" y="264.72" width="36.4" height="5.45" fill="#E4FF00" opacity="0.45"/>
<rect x="468.7" y="264.72" width="36.4" height="4.35" fill="#E4FF00"/>
<rect x="468.7" y="270.17" width="36.4" height="5.45" fill="#C8FF00" opacity="0.45"/>
<rect x="468.7" y="270.17" width="36.4" height="4.35" fill="#C8FF00"/>
<rect x="468.7" y="275.62" width="36.4" height="5.45" fill="#A8FF00" opacity="0.45"/>
<rect x="468.7" y="275.62" width="36.4" height="4.35" fill="#A8FF00"/>
<rect x="468.7" y="281.06" width="36.4" height="5.45" fill="#80FF00" opacity="0.45"/>
<rect x="468.7" y="281.06" width="36.4" height="4.35" fill="#80FF00"/>
<rect x="468.7" y="286.51" width="36.4" height="5.45" fill="#28FF00" opacity="0.45"/>
<rect x="468.7" y="286.51" width="36.4" height="4.35" fill="#28FF00"/>
<rect x="468.7" y="291.96" width="36.4" height="5.45" fill="#00FF80" opacity="0.45"/>
<rect x="468.7" y="291.96" width="36.4" height="4.35" fill="#00FF80"/>
<rect x="468.7" y="297.41" width="36.4" height="5.45" fill="#00FF94" opacity="0.45"/>
<rect x="468.7" y="297.41" width="36.4" height="4.35" fill="#00FF94"/>
<rect x="468.7" y="302.85" width="36.4" height="5.45" fill="#00FFA8" opacity="0.45"/>
<rect x="468.7" y="302.85" width="36.4" height="4.35" fill="#00FFA8"/>
<rect x="468.7" y="308.30" width="36.4" height="5.45" fill="#00FFBC" opacity="0.45"/>
<rect x="468.7" y="308.30" width="36.4" height="4.35" fill="#00FFBC"/>
<rect x="468.7" y="313.75" width="36.4" height="5.45" fill="#00FFD8" opacity="0.45"/>
<rect x="468.7" y="313.75" width="36.4" height="4.35" fill="#00FFD8"/>
<rect x="468.7" y="319.19" width="36.4" height="5.45" fill="#00FFFF" opacity="0.45"/>
<rect x="468.7" y="319.19" width="36.4" height="4.35" fill="#00FFFF"/>
<rect x="468.7" y="324.64" width="36.4" height="5.45" fill="#00E0FF" opacity="0.45"/>
<rect x="468.7" y="324.64" width="36.4" height="4.35" fill="#00E0FF"/>
<rect x="468.7" y="330.09" width="36.4" height="5.45" fill="#00C4FF" opacity="0.45"/>
<rect x="468.7" y="330.09" width="36.4" height="4.35" fill="#00C4FF"/>
<rect x="468.7" y="335.54" width="36.4" height="5.45" fill="#00A8FF" opacity="0.45"/>
<rect x="468.7" y="335.54" width="36.4" height="4.35" fill="#00A8FF"/>
<rect x="468.7" y="340.98" width="36.4" height="5.45" fill="#008CFF" opacity="0.45"/>
<rect x="468.7" y="340.98" width="36.4" height="4.35" fill="#008CFF"/>
<rect x="468.7" y="346.43" width="36.4" height="5.45" fill="#0070FF" opacity="0.45"/>
<rect x="468.7" y="346.43" width="36.4" height="4.35" fill="#0070FF"/>
<rect x="468.7" y="351.88" width="36.4" height="5.45" fill="#0055FF" opacity="0.45"/>
<rect x="468.7" y="351.88" width="36.4" height="4.35" fill="#0055FF"/>
<rect x="468.7" y="357.32" width="36.4" height="5.45" fill="#0000FF" opacity="0.45"/>
<rect x="468.7" y="357.32" width="36.4" height="4.35" fill="#0000FF"/>
<rect x="468.7" y="362.77" width="36.4" height="5.45" fill="#5A00FF" opacity="0.45"/>
<rect x="468.7" y="362.77" width="36.4" height="4.35" fill="#5A00FF"/>
<rect x="468.7" y="368.22" width="36.4" height="5.45" fill="#7400FF" opacity="0.45"/>
<rect x="468.7" y="368.22" width="36.4" height="4.35" fill="#7400FF"/>
<rect x="468.7" y="373.66" width="36.4" height="5.45" fill="#9000FF" opacity="0.45"/>
<rect x="468.7" y="373.66" width="36.4" height="4.35" fill="#9000FF"/>
<rect x="468.7" y="379.11" width="36.4" height="5.45" fill="#AA00FF" opacity="0.45"/>
<rect x="468.7" y="379.11" width="36.4" height="4.35" fill="#AA00FF"/>
<rect x="468.7" y="384.56" width="36.4" height="5.45" fill="#C800FF" opacity="0.45"/>
<rect x="468.7" y="384.56" width="36.4" height="4.35" fill="#C800FF"/>
<rect x="468.7" y="390.01" width="36.4" height="5.45" fill="#E400FF" opacity="0.45"/>
<rect x="468.7" y="390.01" width="36.4" height="4.35" fill="#E400FF"/>
<rect x="468.7" y="395.45" width="36.4" height="5.45" fill="#FF00FF" opacity="0.45"/>
<rect x="468.7" y="395.45" width="36.4" height="4.35" fill="#FF00FF"/>
<g font-family="'Liberation Serif','Times New Roman',serif" font-weight="bold" fill="#000" font-size="18.2" text-anchor="middle">
<text x="492.8" y="155.7">acceptor trap</text>
<text x="492.8" y="177.9">ionized density</text>
<text x="493" y="199">(cm<tspan dy="-6" font-size="11">-3</tspan><tspan dy="6">)</tspan></text>
</g>
<text x="508" y="221.2" font-family="'Liberation Serif','Times New Roman',serif" font-weight="bold" font-size="18.6">17.8</text>
<text x="513.2" y="403.2" font-family="'Liberation Serif','Times New Roman',serif" font-weight="bold" font-size="18">0</text></g>
<text x="1157" y="436" font-family="'Liberation Serif','Times New Roman',serif" font-size="38.8" fill="#000">(b)</text>
<rect x="321.5" y="502.9" width="501.0" height="520.5" fill="none" stroke="#000" stroke-width="2.1"/>
<path d="M313.5 1023.4H330.6M321.5 1008.5H326.8M321.5 993.7H326.8M321.5 978.8H326.8M321.5 963.9H326.8M313.5 949.0H330.6M321.5 934.2H326.8M321.5 919.3H326.8M321.5 904.4H326.8M321.5 889.6H326.8M313.5 874.7H330.6M321.5 859.8H326.8M321.5 844.9H326.8M321.5 830.1H326.8M321.5 815.2H326.8M313.5 800.3H330.6M321.5 785.5H326.8M321.5 770.6H326.8M321.5 755.7H326.8M321.5 740.8H326.8M313.5 726.0H330.6M321.5 711.1H326.8M321.5 696.2H326.8M321.5 681.4H326.8M321.5 666.5H326.8M313.5 651.6H330.6M321.5 636.7H326.8M321.5 621.9H326.8M321.5 607.0H326.8M321.5 592.1H326.8M313.5 577.3H330.6M321.5 562.4H326.8M321.5 547.5H326.8M321.5 532.6H326.8M321.5 517.8H326.8M313.5 502.9H330.6M321.5 1016.2V1032.8M341.5 1023.4V1018.6M361.6 1023.4V1018.6M381.6 1023.4V1018.6M401.7 1023.4V1018.6M421.7 1016.2V1032.8M441.7 1023.4V1018.6M461.8 1023.4V1018.6M481.8 1023.4V1018.6M501.9 1023.4V1018.6M521.9 1016.2V1032.8M541.9 1023.4V1018.6M562.0 1023.4V1018.6M582.0 1023.4V1018.6M602.1 1023.4V1018.6M622.1 1016.2V1032.8M642.1 1023.4V1018.6M662.2 1023.4V1018.6M682.2 1023.4V1018.6M702.3 1023.4V1018.6M722.3 1016.2V1032.8M742.3 1023.4V1018.6M762.4 1023.4V1018.6M782.4 1023.4V1018.6M802.5 1023.4V1018.6M822.5 1016.2V1032.8" stroke="#000" stroke-width="2" fill="none"/>
<g font-family="'Liberation Serif','Times New Roman',serif" font-weight="bold" fill="#000" font-size="29.5">
<text x="306.8" y="1033.3" text-anchor="end">-15</text>
<text x="306.8" y="958.9" text-anchor="end">-10</text>
<text x="306.8" y="884.6" text-anchor="end">-5</text>
<text x="306.8" y="810.2" text-anchor="end">0</text>
<text x="306.8" y="735.9" text-anchor="end">5</text>
<text x="306.8" y="661.5" text-anchor="end">10</text>
<text x="306.8" y="587.2" text-anchor="end">15</text>
<text x="306.8" y="512.8" text-anchor="end">20</text>
<text x="321.5" y="1061" text-anchor="middle">0</text>
<text x="421.7" y="1061" text-anchor="middle">5</text>
<text x="521.9" y="1061" text-anchor="middle">10</text>
<text x="622.1" y="1061" text-anchor="middle">15</text>
<text x="722.3" y="1061" text-anchor="middle">20</text>
<text x="822.5" y="1061" text-anchor="middle">25</text>
</g>
<g font-family="'Liberation Serif','Times New Roman',serif" font-weight="bold" fill="#000" font-size="29.8">
<text x="576" y="1101" text-anchor="middle">x coordinate (μm)</text>
<text transform="translate(264 773) rotate(-90)" text-anchor="middle">acceptor trap ionized density (cm<tspan dy="-13" font-size="16.5">-3</tspan><tspan dy="13">)</tspan></text>
</g>
<line x1="611" y1="967.4" x2="661" y2="967.4" stroke="#FF1E1E" stroke-width="2.4"/>
<line x1="611" y1="996.9" x2="661" y2="996.9" stroke="#FF8C1A" stroke-width="2.4"/>
<g font-family="'Liberation Serif','Times New Roman',serif" font-weight="bold" fill="#000" font-size="24">
<text x="666.5" y="974.5">400 V DPT</text>
<text x="666.5" y="1003.2">400 V off-state</text>
</g>
<polyline points="328.7,535.6 391.4,535.6 394.0,740.0 395.0,762.1 399.6,736.9 409.0,800.0 421.6,904.0 424.1,965.0 425.9,981.8 427.5,878.4 428.0,790.0 428.0,609.5 433.3,609.6 445.0,595.0 456.6,586.6 468.3,581.3 478.3,580.5 491.6,581.7 508.3,583.3 510.8,585.0 515.8,596.6 519.1,599.6 526.6,596.6 536.6,591.6 550.0,584.1 553.3,580.0 556.3,576.6 558.3,579.1 561.6,593.3 565.0,610.0 568.3,625.0 573.3,638.3 580.0,648.3 590.0,652.5 600.0,653.6 611.5,655.9 623.0,661.6 634.5,669.3 646.0,679.8 657.4,689.4 668.9,696.1 680.4,700.5 695.7,703.7 714.9,706.6 734.0,709.5 757.0,711.4 760.9,714.3 763.7,717.1 767.6,716.2 772.3,713.3 780.0,712.7 791.5,715.2 803.0,721.0 814.5,729.6 822.1,739.2" fill="none" stroke="#FF8C1A" stroke-width="2.4" stroke-linejoin="round"/>
<polyline points="328.7,535.6 391.4,535.6 394.3,727.2 399.6,706.3 403.0,740.0 407.4,747.6 420.8,751.4 423.0,748.7 426.7,744.4 427.8,700.0 428.0,609.5 433.3,609.6 445.0,595.0 456.6,586.6 468.3,581.3 478.3,580.5 491.6,581.7 508.3,583.3 510.8,585.0 515.8,596.6 519.1,599.6 526.6,596.6 536.6,591.6 550.0,584.1 553.3,580.0 556.3,576.6 558.3,579.1 561.6,593.3 565.0,610.0 568.3,625.0 573.3,638.3 580.0,648.3 590.0,652.5 600.0,653.6 611.5,655.9 623.0,661.6 634.5,669.3 646.0,679.8 657.4,689.4 668.9,696.1 680.4,700.5 695.7,703.7 714.9,706.6 734.0,709.5 757.0,711.4 760.9,714.3 763.7,717.1 767.6,716.2 772.3,713.3 780.0,712.7 791.5,715.2 803.0,721.0 814.5,729.6 822.1,739.2" fill="none" stroke="#FF1E1E" stroke-width="2.4" stroke-linejoin="round"/>
<polyline points="428.0,609.5 433.3,609.6 445.0,595.0 456.6,586.6 468.3,581.3 478.3,580.5 491.6,581.7 508.3,583.3 510.8,585.0 515.8,596.6 519.1,599.6 526.6,596.6 536.6,591.6 550.0,584.1 553.3,580.0 556.3,576.6 558.3,579.1 561.6,593.3 565.0,610.0 568.3,625.0 573.3,638.3 580.0,648.3 590.0,652.5 600.0,653.6 611.5,655.9 623.0,661.6 634.5,669.3 646.0,679.8 657.4,689.4 668.9,696.1 680.4,700.5 695.7,703.7 714.9,706.6 734.0,709.5 757.0,711.4 760.9,714.3 763.7,717.1 767.6,716.2 772.3,713.3 780.0,712.7 791.5,715.2 803.0,721.0 814.5,729.6 822.1,739.2" fill="none" stroke="#FF8C1A" stroke-width="1.0" stroke-linejoin="round" transform="translate(0 0.8)"/>
<polyline points="328.7,535.6 391.4,535.6 394.0,740.0" fill="none" stroke="#FF8C1A" stroke-width="2.3" stroke-linejoin="round"/>
<polyline points="428.0,790.0 428.0,612.0" fill="none" stroke="#FF8C1A" stroke-width="2.3" stroke-linejoin="round"/>
<text x="846.3" y="1108.2" font-family="'Liberation Serif','Times New Roman',serif" font-size="44" fill="#000">(c)</text>
</svg></body></html>
